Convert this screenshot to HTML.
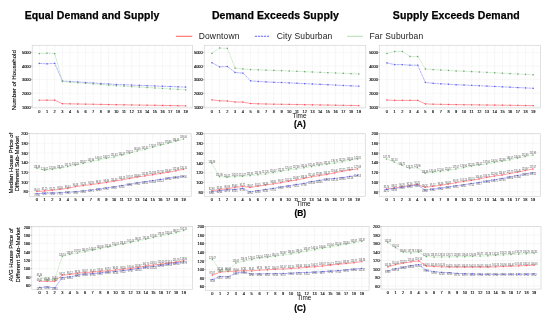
<!DOCTYPE html>
<html><head><meta charset="utf-8"><style>
html,body{margin:0;padding:0;background:#fff;}
svg{display:block;will-change:transform;}
text{font-family:"Liberation Sans",sans-serif;}
.tk{font-size:3.9px;fill:#111;stroke:#111;stroke-width:0.15px;}
.lb{font-size:2.8px;fill:#4a4a4a;}
.ttl{font-size:10.5px;font-weight:bold;fill:#000;stroke:#000;stroke-width:0.25px;letter-spacing:0.1px;}
.leg{font-size:8.5px;fill:#222;letter-spacing:0.15px;}
.yl{font-size:6px;fill:#000;stroke:#000;stroke-width:0.12px;}
.tm{font-size:6.4px;fill:#111;}
.pl{font-size:8.4px;font-weight:bold;fill:#000;stroke:#000;stroke-width:0.2px;}
</style></head><body>
<svg width="550" height="317" viewBox="0 0 550 317">
<rect width="550" height="317" fill="#fff"/>
<text x="24.7" y="19.2" class="ttl">Equal Demand and Supply</text>
<text x="211.9" y="19.2" class="ttl">Demand Exceeds Supply</text>
<text x="392.8" y="19.2" class="ttl">Supply Exceeds Demand</text>
<line x1="175.9" y1="36.3" x2="192.3" y2="36.3" stroke="#ff6868" stroke-width="1.1"/>
<text x="198.7" y="39.2" class="leg">Downtown</text>
<line x1="254.8" y1="36.3" x2="269.2" y2="36.3" stroke="#6464ff" stroke-width="1.1" stroke-dasharray="2.2 0.8"/>
<text x="276.7" y="39.2" class="leg">City Suburban</text>
<line x1="347" y1="36.3" x2="362.8" y2="36.3" stroke="#b8e2b8" stroke-width="1.1"/>
<text x="369.5" y="39.2" class="leg">Far Suburban</text>
<text transform="translate(16.1,80.2) rotate(-90)" class="yl" text-anchor="middle" style="font-size:6.2px">Number of Household</text>
<text transform="translate(13.3,163.2) rotate(-90)" class="yl" text-anchor="middle">Median House Price of</text>
<text transform="translate(18.6,163.7) rotate(-90)" class="yl" text-anchor="middle">Different Sub-Market</text>
<text transform="translate(13.2,281.6) rotate(-90)" class="yl">AVG House Price of</text>
<text transform="translate(19.5,282.5) rotate(-90)" class="yl">Different Sub-Market</text>
<text x="299.5" y="117.7" class="tm" text-anchor="middle">Time</text>
<text x="299.9" y="126.6" class="pl" text-anchor="middle">(A)</text>
<text x="303.7" y="206.4" class="tm" text-anchor="middle">Time</text>
<text x="300.3" y="215.8" class="pl" text-anchor="middle">(B)</text>
<text x="304.3" y="300" class="tm" text-anchor="middle">Time</text>
<text x="300" y="310.9" class="pl" text-anchor="middle">(C)</text>
<path d="M39.3 45.3V107.9M47 45.3V107.9M54.7 45.3V107.9M62.4 45.3V107.9M70.1 45.3V107.9M77.8 45.3V107.9M85.5 45.3V107.9M93.2 45.3V107.9M100.9 45.3V107.9M108.6 45.3V107.9M116.3 45.3V107.9M124 45.3V107.9M131.7 45.3V107.9M139.4 45.3V107.9M147.1 45.3V107.9M154.8 45.3V107.9M162.5 45.3V107.9M170.2 45.3V107.9M177.9 45.3V107.9M185.6 45.3V107.9M32.2 106.9H192.6M32.2 93.28H192.6M32.2 79.65H192.6M32.2 66.03H192.6M32.2 52.4H192.6" stroke="#eeeeee" stroke-width="0.5" fill="none"/>
<rect x="32.2" y="45.3" width="160.4" height="62.6" fill="none" stroke="#d4d4d4" stroke-width="0.7"/>
<text x="39.3" y="112.6" class="tk" text-anchor="middle">0</text>
<text x="47" y="112.6" class="tk" text-anchor="middle">1</text>
<text x="54.7" y="112.6" class="tk" text-anchor="middle">2</text>
<text x="62.4" y="112.6" class="tk" text-anchor="middle">3</text>
<text x="70.1" y="112.6" class="tk" text-anchor="middle">4</text>
<text x="77.8" y="112.6" class="tk" text-anchor="middle">5</text>
<text x="85.5" y="112.6" class="tk" text-anchor="middle">6</text>
<text x="93.2" y="112.6" class="tk" text-anchor="middle">7</text>
<text x="100.9" y="112.6" class="tk" text-anchor="middle">8</text>
<text x="108.6" y="112.6" class="tk" text-anchor="middle">9</text>
<text x="116.3" y="112.6" class="tk" text-anchor="middle">10</text>
<text x="124" y="112.6" class="tk" text-anchor="middle">11</text>
<text x="131.7" y="112.6" class="tk" text-anchor="middle">12</text>
<text x="139.4" y="112.6" class="tk" text-anchor="middle">13</text>
<text x="147.1" y="112.6" class="tk" text-anchor="middle">14</text>
<text x="154.8" y="112.6" class="tk" text-anchor="middle">15</text>
<text x="162.5" y="112.6" class="tk" text-anchor="middle">16</text>
<text x="170.2" y="112.6" class="tk" text-anchor="middle">17</text>
<text x="177.9" y="112.6" class="tk" text-anchor="middle">18</text>
<text x="185.6" y="112.6" class="tk" text-anchor="middle">19</text>
<text x="30.7" y="108.65" class="tk" text-anchor="end">1000</text>
<path d="M30.9 106.9H32.2" stroke="#666" stroke-width="0.4"/>
<text x="30.7" y="95.03" class="tk" text-anchor="end">2000</text>
<path d="M30.9 93.28H32.2" stroke="#666" stroke-width="0.4"/>
<text x="30.7" y="81.4" class="tk" text-anchor="end">3000</text>
<path d="M30.9 79.65H32.2" stroke="#666" stroke-width="0.4"/>
<text x="30.7" y="67.78" class="tk" text-anchor="end">4000</text>
<path d="M30.9 66.03H32.2" stroke="#666" stroke-width="0.4"/>
<text x="30.7" y="54.15" class="tk" text-anchor="end">5000</text>
<path d="M30.9 52.4H32.2" stroke="#666" stroke-width="0.4"/>
<polyline points="39.3,100.2 47,100.2 54.7,100.2 62.4,103.7 70.1,103.84 77.8,103.99 85.5,104.13 93.2,104.27 100.9,104.41 108.6,104.56 116.3,104.7 124,104.82 131.7,104.94 139.4,105.07 147.1,105.19 154.8,105.31 162.5,105.43 170.2,105.56 177.9,105.68 185.6,105.8" fill="none" stroke="#ff9c9c" stroke-width="0.95"/>
<rect x="38.65" y="99.55" width="1.3" height="1.3" fill="#ff4d6a"/>
<rect x="46.35" y="99.55" width="1.3" height="1.3" fill="#ff4d6a"/>
<rect x="54.05" y="99.55" width="1.3" height="1.3" fill="#ff4d6a"/>
<rect x="61.75" y="103.05" width="1.3" height="1.3" fill="#ff4d6a"/>
<rect x="69.45" y="103.19" width="1.3" height="1.3" fill="#ff4d6a"/>
<rect x="77.15" y="103.34" width="1.3" height="1.3" fill="#ff4d6a"/>
<rect x="84.85" y="103.48" width="1.3" height="1.3" fill="#ff4d6a"/>
<rect x="92.55" y="103.62" width="1.3" height="1.3" fill="#ff4d6a"/>
<rect x="100.25" y="103.76" width="1.3" height="1.3" fill="#ff4d6a"/>
<rect x="107.95" y="103.91" width="1.3" height="1.3" fill="#ff4d6a"/>
<rect x="115.65" y="104.05" width="1.3" height="1.3" fill="#ff4d6a"/>
<rect x="123.35" y="104.17" width="1.3" height="1.3" fill="#ff4d6a"/>
<rect x="131.05" y="104.29" width="1.3" height="1.3" fill="#ff4d6a"/>
<rect x="138.75" y="104.42" width="1.3" height="1.3" fill="#ff4d6a"/>
<rect x="146.45" y="104.54" width="1.3" height="1.3" fill="#ff4d6a"/>
<rect x="154.15" y="104.66" width="1.3" height="1.3" fill="#ff4d6a"/>
<rect x="161.85" y="104.78" width="1.3" height="1.3" fill="#ff4d6a"/>
<rect x="169.55" y="104.91" width="1.3" height="1.3" fill="#ff4d6a"/>
<rect x="177.25" y="105.03" width="1.3" height="1.3" fill="#ff4d6a"/>
<rect x="184.95" y="105.15" width="1.3" height="1.3" fill="#ff4d6a"/>
<polyline points="39.3,63.4 47,63.8 54.7,63.4 62.4,81 70.1,81.5 77.8,82 85.5,82.5 93.2,83 100.9,83.5 108.6,84 116.3,84.5 124,84.79 131.7,85.08 139.4,85.37 147.1,85.66 154.8,85.94 162.5,86.23 170.2,86.52 177.9,86.81 185.6,87.1" fill="none" stroke="#a4a4ff" stroke-width="0.85" stroke-dasharray="2.8 0.6"/>
<rect x="38.65" y="62.75" width="1.3" height="1.3" fill="#5e5ef2"/>
<rect x="46.35" y="63.15" width="1.3" height="1.3" fill="#5e5ef2"/>
<rect x="54.05" y="62.75" width="1.3" height="1.3" fill="#5e5ef2"/>
<rect x="61.75" y="80.35" width="1.3" height="1.3" fill="#5e5ef2"/>
<rect x="69.45" y="80.85" width="1.3" height="1.3" fill="#5e5ef2"/>
<rect x="77.15" y="81.35" width="1.3" height="1.3" fill="#5e5ef2"/>
<rect x="84.85" y="81.85" width="1.3" height="1.3" fill="#5e5ef2"/>
<rect x="92.55" y="82.35" width="1.3" height="1.3" fill="#5e5ef2"/>
<rect x="100.25" y="82.85" width="1.3" height="1.3" fill="#5e5ef2"/>
<rect x="107.95" y="83.35" width="1.3" height="1.3" fill="#5e5ef2"/>
<rect x="115.65" y="83.85" width="1.3" height="1.3" fill="#5e5ef2"/>
<rect x="123.35" y="84.14" width="1.3" height="1.3" fill="#5e5ef2"/>
<rect x="131.05" y="84.43" width="1.3" height="1.3" fill="#5e5ef2"/>
<rect x="138.75" y="84.72" width="1.3" height="1.3" fill="#5e5ef2"/>
<rect x="146.45" y="85.01" width="1.3" height="1.3" fill="#5e5ef2"/>
<rect x="154.15" y="85.29" width="1.3" height="1.3" fill="#5e5ef2"/>
<rect x="161.85" y="85.58" width="1.3" height="1.3" fill="#5e5ef2"/>
<rect x="169.55" y="85.87" width="1.3" height="1.3" fill="#5e5ef2"/>
<rect x="177.25" y="86.16" width="1.3" height="1.3" fill="#5e5ef2"/>
<rect x="184.95" y="86.45" width="1.3" height="1.3" fill="#5e5ef2"/>
<polyline points="39.3,53.6 47,53.2 54.7,53.6 62.4,81.5 70.1,82.1 77.8,82.7 85.5,83.3 93.2,83.9 100.9,84.5 108.6,85.1 116.3,85.7 124,86.16 131.7,86.61 139.4,87.07 147.1,87.52 154.8,87.98 162.5,88.43 170.2,88.89 177.9,89.34 185.6,89.8" fill="none" stroke="#b2dcb2" stroke-width="0.8" stroke-dasharray="0.9 0.5"/>
<rect x="38.65" y="52.95" width="1.3" height="1.3" fill="#67a867"/>
<rect x="46.35" y="52.55" width="1.3" height="1.3" fill="#67a867"/>
<rect x="54.05" y="52.95" width="1.3" height="1.3" fill="#67a867"/>
<rect x="61.75" y="80.85" width="1.3" height="1.3" fill="#67a867"/>
<rect x="69.45" y="81.45" width="1.3" height="1.3" fill="#67a867"/>
<rect x="77.15" y="82.05" width="1.3" height="1.3" fill="#67a867"/>
<rect x="84.85" y="82.65" width="1.3" height="1.3" fill="#67a867"/>
<rect x="92.55" y="83.25" width="1.3" height="1.3" fill="#67a867"/>
<rect x="100.25" y="83.85" width="1.3" height="1.3" fill="#67a867"/>
<rect x="107.95" y="84.45" width="1.3" height="1.3" fill="#67a867"/>
<rect x="115.65" y="85.05" width="1.3" height="1.3" fill="#67a867"/>
<rect x="123.35" y="85.51" width="1.3" height="1.3" fill="#67a867"/>
<rect x="131.05" y="85.96" width="1.3" height="1.3" fill="#67a867"/>
<rect x="138.75" y="86.42" width="1.3" height="1.3" fill="#67a867"/>
<rect x="146.45" y="86.87" width="1.3" height="1.3" fill="#67a867"/>
<rect x="154.15" y="87.33" width="1.3" height="1.3" fill="#67a867"/>
<rect x="161.85" y="87.78" width="1.3" height="1.3" fill="#67a867"/>
<rect x="169.55" y="88.24" width="1.3" height="1.3" fill="#67a867"/>
<rect x="177.25" y="88.69" width="1.3" height="1.3" fill="#67a867"/>
<rect x="184.95" y="89.15" width="1.3" height="1.3" fill="#67a867"/>
<path d="M211.9 45.3V107.9M219.63 45.3V107.9M227.36 45.3V107.9M235.09 45.3V107.9M242.82 45.3V107.9M250.55 45.3V107.9M258.28 45.3V107.9M266.01 45.3V107.9M273.74 45.3V107.9M281.47 45.3V107.9M289.2 45.3V107.9M296.93 45.3V107.9M304.66 45.3V107.9M312.39 45.3V107.9M320.12 45.3V107.9M327.85 45.3V107.9M335.58 45.3V107.9M343.31 45.3V107.9M351.04 45.3V107.9M358.77 45.3V107.9M204.2 106.9H365.8M204.2 93.28H365.8M204.2 79.65H365.8M204.2 66.03H365.8M204.2 52.4H365.8" stroke="#eeeeee" stroke-width="0.5" fill="none"/>
<rect x="204.2" y="45.3" width="161.6" height="62.6" fill="none" stroke="#d4d4d4" stroke-width="0.7"/>
<text x="211.9" y="112.6" class="tk" text-anchor="middle">0</text>
<text x="219.63" y="112.6" class="tk" text-anchor="middle">1</text>
<text x="227.36" y="112.6" class="tk" text-anchor="middle">2</text>
<text x="235.09" y="112.6" class="tk" text-anchor="middle">3</text>
<text x="242.82" y="112.6" class="tk" text-anchor="middle">4</text>
<text x="250.55" y="112.6" class="tk" text-anchor="middle">5</text>
<text x="258.28" y="112.6" class="tk" text-anchor="middle">6</text>
<text x="266.01" y="112.6" class="tk" text-anchor="middle">7</text>
<text x="273.74" y="112.6" class="tk" text-anchor="middle">8</text>
<text x="281.47" y="112.6" class="tk" text-anchor="middle">9</text>
<text x="289.2" y="112.6" class="tk" text-anchor="middle">10</text>
<text x="296.93" y="112.6" class="tk" text-anchor="middle">11</text>
<text x="304.66" y="112.6" class="tk" text-anchor="middle">12</text>
<text x="312.39" y="112.6" class="tk" text-anchor="middle">13</text>
<text x="320.12" y="112.6" class="tk" text-anchor="middle">14</text>
<text x="327.85" y="112.6" class="tk" text-anchor="middle">15</text>
<text x="335.58" y="112.6" class="tk" text-anchor="middle">16</text>
<text x="343.31" y="112.6" class="tk" text-anchor="middle">17</text>
<text x="351.04" y="112.6" class="tk" text-anchor="middle">18</text>
<text x="358.77" y="112.6" class="tk" text-anchor="middle">19</text>
<text x="202.7" y="108.65" class="tk" text-anchor="end">1000</text>
<path d="M202.9 106.9H204.2" stroke="#666" stroke-width="0.4"/>
<text x="202.7" y="95.03" class="tk" text-anchor="end">2000</text>
<path d="M202.9 93.28H204.2" stroke="#666" stroke-width="0.4"/>
<text x="202.7" y="81.4" class="tk" text-anchor="end">3000</text>
<path d="M202.9 79.65H204.2" stroke="#666" stroke-width="0.4"/>
<text x="202.7" y="67.78" class="tk" text-anchor="end">4000</text>
<path d="M202.9 66.03H204.2" stroke="#666" stroke-width="0.4"/>
<text x="202.7" y="54.15" class="tk" text-anchor="end">5000</text>
<path d="M202.9 52.4H204.2" stroke="#666" stroke-width="0.4"/>
<polyline points="211.9,99.8 219.63,100.8 227.36,101 235.09,102 242.82,102.1 250.55,103.5 258.28,103.8 266.01,104 273.74,104.2 281.47,104.3 289.2,104.4 296.93,104.53 304.66,104.67 312.39,104.8 320.12,104.93 327.85,105.07 335.58,105.2 343.31,105.33 351.04,105.47 358.77,105.6" fill="none" stroke="#ff9c9c" stroke-width="0.95"/>
<rect x="211.25" y="99.15" width="1.3" height="1.3" fill="#ff4d6a"/>
<rect x="218.98" y="100.15" width="1.3" height="1.3" fill="#ff4d6a"/>
<rect x="226.71" y="100.35" width="1.3" height="1.3" fill="#ff4d6a"/>
<rect x="234.44" y="101.35" width="1.3" height="1.3" fill="#ff4d6a"/>
<rect x="242.17" y="101.45" width="1.3" height="1.3" fill="#ff4d6a"/>
<rect x="249.9" y="102.85" width="1.3" height="1.3" fill="#ff4d6a"/>
<rect x="257.63" y="103.15" width="1.3" height="1.3" fill="#ff4d6a"/>
<rect x="265.36" y="103.35" width="1.3" height="1.3" fill="#ff4d6a"/>
<rect x="273.09" y="103.55" width="1.3" height="1.3" fill="#ff4d6a"/>
<rect x="280.82" y="103.65" width="1.3" height="1.3" fill="#ff4d6a"/>
<rect x="288.55" y="103.75" width="1.3" height="1.3" fill="#ff4d6a"/>
<rect x="296.28" y="103.88" width="1.3" height="1.3" fill="#ff4d6a"/>
<rect x="304.01" y="104.02" width="1.3" height="1.3" fill="#ff4d6a"/>
<rect x="311.74" y="104.15" width="1.3" height="1.3" fill="#ff4d6a"/>
<rect x="319.47" y="104.28" width="1.3" height="1.3" fill="#ff4d6a"/>
<rect x="327.2" y="104.42" width="1.3" height="1.3" fill="#ff4d6a"/>
<rect x="334.93" y="104.55" width="1.3" height="1.3" fill="#ff4d6a"/>
<rect x="342.66" y="104.68" width="1.3" height="1.3" fill="#ff4d6a"/>
<rect x="350.39" y="104.82" width="1.3" height="1.3" fill="#ff4d6a"/>
<rect x="358.12" y="104.95" width="1.3" height="1.3" fill="#ff4d6a"/>
<polyline points="211.9,62.7 219.63,66.9 227.36,66.5 235.09,72.5 242.82,73.1 250.55,80.8 258.28,81.5 266.01,81.9 273.74,82.3 281.47,82.5 289.2,82.9 296.93,83.27 304.66,83.63 312.39,84 320.12,84.37 327.85,84.73 335.58,85.1 343.31,85.47 351.04,85.83 358.77,86.2" fill="none" stroke="#a4a4ff" stroke-width="0.85" stroke-dasharray="2.8 0.6"/>
<rect x="211.25" y="62.05" width="1.3" height="1.3" fill="#5e5ef2"/>
<rect x="218.98" y="66.25" width="1.3" height="1.3" fill="#5e5ef2"/>
<rect x="226.71" y="65.85" width="1.3" height="1.3" fill="#5e5ef2"/>
<rect x="234.44" y="71.85" width="1.3" height="1.3" fill="#5e5ef2"/>
<rect x="242.17" y="72.45" width="1.3" height="1.3" fill="#5e5ef2"/>
<rect x="249.9" y="80.15" width="1.3" height="1.3" fill="#5e5ef2"/>
<rect x="257.63" y="80.85" width="1.3" height="1.3" fill="#5e5ef2"/>
<rect x="265.36" y="81.25" width="1.3" height="1.3" fill="#5e5ef2"/>
<rect x="273.09" y="81.65" width="1.3" height="1.3" fill="#5e5ef2"/>
<rect x="280.82" y="81.85" width="1.3" height="1.3" fill="#5e5ef2"/>
<rect x="288.55" y="82.25" width="1.3" height="1.3" fill="#5e5ef2"/>
<rect x="296.28" y="82.62" width="1.3" height="1.3" fill="#5e5ef2"/>
<rect x="304.01" y="82.98" width="1.3" height="1.3" fill="#5e5ef2"/>
<rect x="311.74" y="83.35" width="1.3" height="1.3" fill="#5e5ef2"/>
<rect x="319.47" y="83.72" width="1.3" height="1.3" fill="#5e5ef2"/>
<rect x="327.2" y="84.08" width="1.3" height="1.3" fill="#5e5ef2"/>
<rect x="334.93" y="84.45" width="1.3" height="1.3" fill="#5e5ef2"/>
<rect x="342.66" y="84.82" width="1.3" height="1.3" fill="#5e5ef2"/>
<rect x="350.39" y="85.18" width="1.3" height="1.3" fill="#5e5ef2"/>
<rect x="358.12" y="85.55" width="1.3" height="1.3" fill="#5e5ef2"/>
<polyline points="211.9,53.4 219.63,48 227.36,48.4 235.09,68.1 242.82,69 250.55,69.6 258.28,69.8 266.01,70.2 273.74,70.4 281.47,70.6 289.2,71 296.93,71.33 304.66,71.67 312.39,72 320.12,72.33 327.85,72.67 335.58,73 343.31,73.33 351.04,73.67 358.77,74" fill="none" stroke="#b2dcb2" stroke-width="0.8" stroke-dasharray="0.9 0.5"/>
<rect x="211.25" y="52.75" width="1.3" height="1.3" fill="#67a867"/>
<rect x="218.98" y="47.35" width="1.3" height="1.3" fill="#67a867"/>
<rect x="226.71" y="47.75" width="1.3" height="1.3" fill="#67a867"/>
<rect x="234.44" y="67.45" width="1.3" height="1.3" fill="#67a867"/>
<rect x="242.17" y="68.35" width="1.3" height="1.3" fill="#67a867"/>
<rect x="249.9" y="68.95" width="1.3" height="1.3" fill="#67a867"/>
<rect x="257.63" y="69.15" width="1.3" height="1.3" fill="#67a867"/>
<rect x="265.36" y="69.55" width="1.3" height="1.3" fill="#67a867"/>
<rect x="273.09" y="69.75" width="1.3" height="1.3" fill="#67a867"/>
<rect x="280.82" y="69.95" width="1.3" height="1.3" fill="#67a867"/>
<rect x="288.55" y="70.35" width="1.3" height="1.3" fill="#67a867"/>
<rect x="296.28" y="70.68" width="1.3" height="1.3" fill="#67a867"/>
<rect x="304.01" y="71.02" width="1.3" height="1.3" fill="#67a867"/>
<rect x="311.74" y="71.35" width="1.3" height="1.3" fill="#67a867"/>
<rect x="319.47" y="71.68" width="1.3" height="1.3" fill="#67a867"/>
<rect x="327.2" y="72.02" width="1.3" height="1.3" fill="#67a867"/>
<rect x="334.93" y="72.35" width="1.3" height="1.3" fill="#67a867"/>
<rect x="342.66" y="72.68" width="1.3" height="1.3" fill="#67a867"/>
<rect x="350.39" y="73.02" width="1.3" height="1.3" fill="#67a867"/>
<rect x="358.12" y="73.35" width="1.3" height="1.3" fill="#67a867"/>
<path d="M386.9 45.3V107.9M394.6 45.3V107.9M402.3 45.3V107.9M410 45.3V107.9M417.7 45.3V107.9M425.4 45.3V107.9M433.1 45.3V107.9M440.8 45.3V107.9M448.5 45.3V107.9M456.2 45.3V107.9M463.9 45.3V107.9M471.6 45.3V107.9M479.3 45.3V107.9M487 45.3V107.9M494.7 45.3V107.9M502.4 45.3V107.9M510.1 45.3V107.9M517.8 45.3V107.9M525.5 45.3V107.9M533.2 45.3V107.9M379.3 106.9H540.5M379.3 93.28H540.5M379.3 79.65H540.5M379.3 66.03H540.5M379.3 52.4H540.5" stroke="#eeeeee" stroke-width="0.5" fill="none"/>
<rect x="379.3" y="45.3" width="161.2" height="62.6" fill="none" stroke="#d4d4d4" stroke-width="0.7"/>
<text x="386.9" y="112.6" class="tk" text-anchor="middle">0</text>
<text x="394.6" y="112.6" class="tk" text-anchor="middle">1</text>
<text x="402.3" y="112.6" class="tk" text-anchor="middle">2</text>
<text x="410" y="112.6" class="tk" text-anchor="middle">3</text>
<text x="417.7" y="112.6" class="tk" text-anchor="middle">4</text>
<text x="425.4" y="112.6" class="tk" text-anchor="middle">5</text>
<text x="433.1" y="112.6" class="tk" text-anchor="middle">6</text>
<text x="440.8" y="112.6" class="tk" text-anchor="middle">7</text>
<text x="448.5" y="112.6" class="tk" text-anchor="middle">8</text>
<text x="456.2" y="112.6" class="tk" text-anchor="middle">9</text>
<text x="463.9" y="112.6" class="tk" text-anchor="middle">10</text>
<text x="471.6" y="112.6" class="tk" text-anchor="middle">11</text>
<text x="479.3" y="112.6" class="tk" text-anchor="middle">12</text>
<text x="487" y="112.6" class="tk" text-anchor="middle">13</text>
<text x="494.7" y="112.6" class="tk" text-anchor="middle">14</text>
<text x="502.4" y="112.6" class="tk" text-anchor="middle">15</text>
<text x="510.1" y="112.6" class="tk" text-anchor="middle">16</text>
<text x="517.8" y="112.6" class="tk" text-anchor="middle">17</text>
<text x="525.5" y="112.6" class="tk" text-anchor="middle">18</text>
<text x="533.2" y="112.6" class="tk" text-anchor="middle">19</text>
<text x="377.8" y="108.65" class="tk" text-anchor="end">1000</text>
<path d="M378 106.9H379.3" stroke="#666" stroke-width="0.4"/>
<text x="377.8" y="95.03" class="tk" text-anchor="end">2000</text>
<path d="M378 93.28H379.3" stroke="#666" stroke-width="0.4"/>
<text x="377.8" y="81.4" class="tk" text-anchor="end">3000</text>
<path d="M378 79.65H379.3" stroke="#666" stroke-width="0.4"/>
<text x="377.8" y="67.78" class="tk" text-anchor="end">4000</text>
<path d="M378 66.03H379.3" stroke="#666" stroke-width="0.4"/>
<text x="377.8" y="54.15" class="tk" text-anchor="end">5000</text>
<path d="M378 52.4H379.3" stroke="#666" stroke-width="0.4"/>
<polyline points="386.9,100 394.6,100.4 402.3,100.4 410,100.4 417.7,100.4 425.4,103.9 433.1,104.2 440.8,104.33 448.5,104.47 456.2,104.6 463.9,104.7 471.6,104.8 479.3,104.9 487,105 494.7,105.1 502.4,105.2 510.1,105.3 517.8,105.4 525.5,105.5 533.2,105.6" fill="none" stroke="#ff9c9c" stroke-width="0.95"/>
<rect x="386.25" y="99.35" width="1.3" height="1.3" fill="#ff4d6a"/>
<rect x="393.95" y="99.75" width="1.3" height="1.3" fill="#ff4d6a"/>
<rect x="401.65" y="99.75" width="1.3" height="1.3" fill="#ff4d6a"/>
<rect x="409.35" y="99.75" width="1.3" height="1.3" fill="#ff4d6a"/>
<rect x="417.05" y="99.75" width="1.3" height="1.3" fill="#ff4d6a"/>
<rect x="424.75" y="103.25" width="1.3" height="1.3" fill="#ff4d6a"/>
<rect x="432.45" y="103.55" width="1.3" height="1.3" fill="#ff4d6a"/>
<rect x="440.15" y="103.68" width="1.3" height="1.3" fill="#ff4d6a"/>
<rect x="447.85" y="103.82" width="1.3" height="1.3" fill="#ff4d6a"/>
<rect x="455.55" y="103.95" width="1.3" height="1.3" fill="#ff4d6a"/>
<rect x="463.25" y="104.05" width="1.3" height="1.3" fill="#ff4d6a"/>
<rect x="470.95" y="104.15" width="1.3" height="1.3" fill="#ff4d6a"/>
<rect x="478.65" y="104.25" width="1.3" height="1.3" fill="#ff4d6a"/>
<rect x="486.35" y="104.35" width="1.3" height="1.3" fill="#ff4d6a"/>
<rect x="494.05" y="104.45" width="1.3" height="1.3" fill="#ff4d6a"/>
<rect x="501.75" y="104.55" width="1.3" height="1.3" fill="#ff4d6a"/>
<rect x="509.45" y="104.65" width="1.3" height="1.3" fill="#ff4d6a"/>
<rect x="517.15" y="104.75" width="1.3" height="1.3" fill="#ff4d6a"/>
<rect x="524.85" y="104.85" width="1.3" height="1.3" fill="#ff4d6a"/>
<rect x="532.55" y="104.95" width="1.3" height="1.3" fill="#ff4d6a"/>
<polyline points="386.9,62.9 394.6,64.6 402.3,64.6 410,65.2 417.7,65.2 425.4,82.5 433.1,83.3 440.8,83.8 448.5,84.2 456.2,84.8 463.9,85 471.6,85.37 479.3,85.73 487,86.1 494.7,86.47 502.4,86.83 510.1,87.2 517.8,87.57 525.5,87.93 533.2,88.3" fill="none" stroke="#a4a4ff" stroke-width="0.85" stroke-dasharray="2.8 0.6"/>
<rect x="386.25" y="62.25" width="1.3" height="1.3" fill="#5e5ef2"/>
<rect x="393.95" y="63.95" width="1.3" height="1.3" fill="#5e5ef2"/>
<rect x="401.65" y="63.95" width="1.3" height="1.3" fill="#5e5ef2"/>
<rect x="409.35" y="64.55" width="1.3" height="1.3" fill="#5e5ef2"/>
<rect x="417.05" y="64.55" width="1.3" height="1.3" fill="#5e5ef2"/>
<rect x="424.75" y="81.85" width="1.3" height="1.3" fill="#5e5ef2"/>
<rect x="432.45" y="82.65" width="1.3" height="1.3" fill="#5e5ef2"/>
<rect x="440.15" y="83.15" width="1.3" height="1.3" fill="#5e5ef2"/>
<rect x="447.85" y="83.55" width="1.3" height="1.3" fill="#5e5ef2"/>
<rect x="455.55" y="84.15" width="1.3" height="1.3" fill="#5e5ef2"/>
<rect x="463.25" y="84.35" width="1.3" height="1.3" fill="#5e5ef2"/>
<rect x="470.95" y="84.72" width="1.3" height="1.3" fill="#5e5ef2"/>
<rect x="478.65" y="85.08" width="1.3" height="1.3" fill="#5e5ef2"/>
<rect x="486.35" y="85.45" width="1.3" height="1.3" fill="#5e5ef2"/>
<rect x="494.05" y="85.82" width="1.3" height="1.3" fill="#5e5ef2"/>
<rect x="501.75" y="86.18" width="1.3" height="1.3" fill="#5e5ef2"/>
<rect x="509.45" y="86.55" width="1.3" height="1.3" fill="#5e5ef2"/>
<rect x="517.15" y="86.92" width="1.3" height="1.3" fill="#5e5ef2"/>
<rect x="524.85" y="87.28" width="1.3" height="1.3" fill="#5e5ef2"/>
<rect x="532.55" y="87.65" width="1.3" height="1.3" fill="#5e5ef2"/>
<polyline points="386.9,53.4 394.6,51.5 402.3,51.5 410,56.5 417.7,56.5 425.4,69 433.1,69.6 440.8,70 448.5,70.4 456.2,71 463.9,71.2 471.6,71.6 479.3,72 487,72.4 494.7,72.8 502.4,73.2 510.1,73.6 517.8,74 525.5,74.4 533.2,74.8" fill="none" stroke="#b2dcb2" stroke-width="0.8" stroke-dasharray="0.9 0.5"/>
<rect x="386.25" y="52.75" width="1.3" height="1.3" fill="#67a867"/>
<rect x="393.95" y="50.85" width="1.3" height="1.3" fill="#67a867"/>
<rect x="401.65" y="50.85" width="1.3" height="1.3" fill="#67a867"/>
<rect x="409.35" y="55.85" width="1.3" height="1.3" fill="#67a867"/>
<rect x="417.05" y="55.85" width="1.3" height="1.3" fill="#67a867"/>
<rect x="424.75" y="68.35" width="1.3" height="1.3" fill="#67a867"/>
<rect x="432.45" y="68.95" width="1.3" height="1.3" fill="#67a867"/>
<rect x="440.15" y="69.35" width="1.3" height="1.3" fill="#67a867"/>
<rect x="447.85" y="69.75" width="1.3" height="1.3" fill="#67a867"/>
<rect x="455.55" y="70.35" width="1.3" height="1.3" fill="#67a867"/>
<rect x="463.25" y="70.55" width="1.3" height="1.3" fill="#67a867"/>
<rect x="470.95" y="70.95" width="1.3" height="1.3" fill="#67a867"/>
<rect x="478.65" y="71.35" width="1.3" height="1.3" fill="#67a867"/>
<rect x="486.35" y="71.75" width="1.3" height="1.3" fill="#67a867"/>
<rect x="494.05" y="72.15" width="1.3" height="1.3" fill="#67a867"/>
<rect x="501.75" y="72.55" width="1.3" height="1.3" fill="#67a867"/>
<rect x="509.45" y="72.95" width="1.3" height="1.3" fill="#67a867"/>
<rect x="517.15" y="73.35" width="1.3" height="1.3" fill="#67a867"/>
<rect x="524.85" y="73.75" width="1.3" height="1.3" fill="#67a867"/>
<rect x="532.55" y="74.15" width="1.3" height="1.3" fill="#67a867"/>
<path d="M36.9 133.7V196.3M44.62 133.7V196.3M52.33 133.7V196.3M60.05 133.7V196.3M67.76 133.7V196.3M75.48 133.7V196.3M83.2 133.7V196.3M90.91 133.7V196.3M98.63 133.7V196.3M106.34 133.7V196.3M114.06 133.7V196.3M121.78 133.7V196.3M129.49 133.7V196.3M137.21 133.7V196.3M144.92 133.7V196.3M152.64 133.7V196.3M160.36 133.7V196.3M168.07 133.7V196.3M175.79 133.7V196.3M183.5 133.7V196.3M29.3 191.5H191.2M29.3 181.87H191.2M29.3 172.24H191.2M29.3 162.6H191.2M29.3 152.97H191.2M29.3 143.33H191.2M29.3 133.7H191.2" stroke="#eeeeee" stroke-width="0.5" fill="none"/>
<rect x="29.3" y="133.7" width="161.9" height="62.6" fill="none" stroke="#d4d4d4" stroke-width="0.7"/>
<text x="36.9" y="200.8" class="tk" text-anchor="middle">0</text>
<text x="44.62" y="200.8" class="tk" text-anchor="middle">1</text>
<text x="52.33" y="200.8" class="tk" text-anchor="middle">2</text>
<text x="60.05" y="200.8" class="tk" text-anchor="middle">3</text>
<text x="67.76" y="200.8" class="tk" text-anchor="middle">4</text>
<text x="75.48" y="200.8" class="tk" text-anchor="middle">5</text>
<text x="83.2" y="200.8" class="tk" text-anchor="middle">6</text>
<text x="90.91" y="200.8" class="tk" text-anchor="middle">7</text>
<text x="98.63" y="200.8" class="tk" text-anchor="middle">8</text>
<text x="106.34" y="200.8" class="tk" text-anchor="middle">9</text>
<text x="114.06" y="200.8" class="tk" text-anchor="middle">10</text>
<text x="121.78" y="200.8" class="tk" text-anchor="middle">11</text>
<text x="129.49" y="200.8" class="tk" text-anchor="middle">12</text>
<text x="137.21" y="200.8" class="tk" text-anchor="middle">13</text>
<text x="144.92" y="200.8" class="tk" text-anchor="middle">14</text>
<text x="152.64" y="200.8" class="tk" text-anchor="middle">15</text>
<text x="160.36" y="200.8" class="tk" text-anchor="middle">16</text>
<text x="168.07" y="200.8" class="tk" text-anchor="middle">17</text>
<text x="175.79" y="200.8" class="tk" text-anchor="middle">18</text>
<text x="183.5" y="200.8" class="tk" text-anchor="middle">19</text>
<text x="27.8" y="193.25" class="tk" text-anchor="end">80</text>
<path d="M28 191.5H29.3" stroke="#666" stroke-width="0.4"/>
<text x="27.8" y="183.62" class="tk" text-anchor="end">100</text>
<path d="M28 181.87H29.3" stroke="#666" stroke-width="0.4"/>
<text x="27.8" y="173.99" class="tk" text-anchor="end">120</text>
<path d="M28 172.24H29.3" stroke="#666" stroke-width="0.4"/>
<text x="27.8" y="164.35" class="tk" text-anchor="end">140</text>
<path d="M28 162.6H29.3" stroke="#666" stroke-width="0.4"/>
<text x="27.8" y="154.72" class="tk" text-anchor="end">160</text>
<path d="M28 152.97H29.3" stroke="#666" stroke-width="0.4"/>
<text x="27.8" y="145.08" class="tk" text-anchor="end">180</text>
<path d="M28 143.33H29.3" stroke="#666" stroke-width="0.4"/>
<text x="27.8" y="135.45" class="tk" text-anchor="end">200</text>
<path d="M28 133.7H29.3" stroke="#666" stroke-width="0.4"/>
<polyline points="36.9,191.5 44.62,190.9 52.33,190.2 60.05,189.3 67.76,188.4 75.48,186.6 83.2,185.6 90.91,184.6 98.63,183.55 106.34,182.5 114.06,181.2 121.78,179.83 129.49,178.47 137.21,177.1 144.92,175.9 152.64,174.7 160.36,173.5 168.07,172.3 175.79,170.8 183.5,169.3" fill="none" stroke="#ff9c9c" stroke-width="0.95"/>
<rect x="36.25" y="190.85" width="1.3" height="1.3" fill="#ff4d6a"/>
<rect x="43.97" y="190.25" width="1.3" height="1.3" fill="#ff4d6a"/>
<rect x="51.68" y="189.55" width="1.3" height="1.3" fill="#ff4d6a"/>
<rect x="59.4" y="188.65" width="1.3" height="1.3" fill="#ff4d6a"/>
<rect x="67.11" y="187.75" width="1.3" height="1.3" fill="#ff4d6a"/>
<rect x="74.83" y="185.95" width="1.3" height="1.3" fill="#ff4d6a"/>
<rect x="82.55" y="184.95" width="1.3" height="1.3" fill="#ff4d6a"/>
<rect x="90.26" y="183.95" width="1.3" height="1.3" fill="#ff4d6a"/>
<rect x="97.98" y="182.9" width="1.3" height="1.3" fill="#ff4d6a"/>
<rect x="105.69" y="181.85" width="1.3" height="1.3" fill="#ff4d6a"/>
<rect x="113.41" y="180.55" width="1.3" height="1.3" fill="#ff4d6a"/>
<rect x="121.13" y="179.18" width="1.3" height="1.3" fill="#ff4d6a"/>
<rect x="128.84" y="177.82" width="1.3" height="1.3" fill="#ff4d6a"/>
<rect x="136.56" y="176.45" width="1.3" height="1.3" fill="#ff4d6a"/>
<rect x="144.27" y="175.25" width="1.3" height="1.3" fill="#ff4d6a"/>
<rect x="151.99" y="174.05" width="1.3" height="1.3" fill="#ff4d6a"/>
<rect x="159.71" y="172.85" width="1.3" height="1.3" fill="#ff4d6a"/>
<rect x="167.42" y="171.65" width="1.3" height="1.3" fill="#ff4d6a"/>
<rect x="175.14" y="170.15" width="1.3" height="1.3" fill="#ff4d6a"/>
<rect x="182.85" y="168.65" width="1.3" height="1.3" fill="#ff4d6a"/>
<text x="34.15" y="190.9" class="lb" textLength="5.5" lengthAdjust="spacingAndGlyphs">80.01</text>
<text x="41.86" y="190.3" class="lb" textLength="5.5" lengthAdjust="spacingAndGlyphs">81.25</text>
<text x="49.58" y="189.6" class="lb" textLength="5.5" lengthAdjust="spacingAndGlyphs">82.71</text>
<text x="57.3" y="188.7" class="lb" textLength="5.5" lengthAdjust="spacingAndGlyphs">84.58</text>
<text x="65.01" y="187.8" class="lb" textLength="5.5" lengthAdjust="spacingAndGlyphs">86.44</text>
<text x="72.73" y="186" class="lb" textLength="5.5" lengthAdjust="spacingAndGlyphs">90.18</text>
<text x="80.44" y="185" class="lb" textLength="5.5" lengthAdjust="spacingAndGlyphs">92.26</text>
<text x="88.16" y="184" class="lb" textLength="5.5" lengthAdjust="spacingAndGlyphs">94.33</text>
<text x="95.88" y="182.95" class="lb" textLength="5.5" lengthAdjust="spacingAndGlyphs">96.51</text>
<text x="103.59" y="181.9" class="lb" textLength="5.5" lengthAdjust="spacingAndGlyphs">98.69</text>
<text x="110.7" y="180.6" class="lb" textLength="6.73" lengthAdjust="spacingAndGlyphs">101.39</text>
<text x="118.41" y="179.23" class="lb" textLength="6.73" lengthAdjust="spacingAndGlyphs">104.23</text>
<text x="126.13" y="177.87" class="lb" textLength="6.73" lengthAdjust="spacingAndGlyphs">107.07</text>
<text x="133.84" y="176.5" class="lb" textLength="6.73" lengthAdjust="spacingAndGlyphs">109.90</text>
<text x="141.56" y="175.3" class="lb" textLength="6.73" lengthAdjust="spacingAndGlyphs">112.39</text>
<text x="149.28" y="174.1" class="lb" textLength="6.73" lengthAdjust="spacingAndGlyphs">114.88</text>
<text x="156.99" y="172.9" class="lb" textLength="6.73" lengthAdjust="spacingAndGlyphs">117.38</text>
<text x="164.71" y="171.7" class="lb" textLength="6.73" lengthAdjust="spacingAndGlyphs">119.87</text>
<text x="172.42" y="170.2" class="lb" textLength="6.73" lengthAdjust="spacingAndGlyphs">122.98</text>
<text x="180.14" y="168.7" class="lb" textLength="6.73" lengthAdjust="spacingAndGlyphs">126.10</text>
<polyline points="36.9,193.7 44.62,193.3 52.33,193 60.05,192.8 67.76,192.3 75.48,191.8 83.2,191 90.91,190.2 98.63,189.15 106.34,188.1 114.06,186.9 121.78,185.6 129.49,184.3 137.21,183 144.92,181.8 152.64,180.6 160.36,179.4 168.07,178.2 175.79,177.25 183.5,176.3" fill="none" stroke="#a4a4ff" stroke-width="0.85" stroke-dasharray="2.8 0.6"/>
<rect x="36.25" y="193.05" width="1.3" height="1.3" fill="#5e5ef2"/>
<rect x="43.97" y="192.65" width="1.3" height="1.3" fill="#5e5ef2"/>
<rect x="51.68" y="192.35" width="1.3" height="1.3" fill="#5e5ef2"/>
<rect x="59.4" y="192.15" width="1.3" height="1.3" fill="#5e5ef2"/>
<rect x="67.11" y="191.65" width="1.3" height="1.3" fill="#5e5ef2"/>
<rect x="74.83" y="191.15" width="1.3" height="1.3" fill="#5e5ef2"/>
<rect x="82.55" y="190.35" width="1.3" height="1.3" fill="#5e5ef2"/>
<rect x="90.26" y="189.55" width="1.3" height="1.3" fill="#5e5ef2"/>
<rect x="97.98" y="188.5" width="1.3" height="1.3" fill="#5e5ef2"/>
<rect x="105.69" y="187.45" width="1.3" height="1.3" fill="#5e5ef2"/>
<rect x="113.41" y="186.25" width="1.3" height="1.3" fill="#5e5ef2"/>
<rect x="121.13" y="184.95" width="1.3" height="1.3" fill="#5e5ef2"/>
<rect x="128.84" y="183.65" width="1.3" height="1.3" fill="#5e5ef2"/>
<rect x="136.56" y="182.35" width="1.3" height="1.3" fill="#5e5ef2"/>
<rect x="144.27" y="181.15" width="1.3" height="1.3" fill="#5e5ef2"/>
<rect x="151.99" y="179.95" width="1.3" height="1.3" fill="#5e5ef2"/>
<rect x="159.71" y="178.75" width="1.3" height="1.3" fill="#5e5ef2"/>
<rect x="167.42" y="177.55" width="1.3" height="1.3" fill="#5e5ef2"/>
<rect x="175.14" y="176.6" width="1.3" height="1.3" fill="#5e5ef2"/>
<rect x="182.85" y="175.65" width="1.3" height="1.3" fill="#5e5ef2"/>
<text x="34.15" y="195.8" class="lb" textLength="5.5" lengthAdjust="spacingAndGlyphs">75.44</text>
<text x="41.86" y="195.4" class="lb" textLength="5.5" lengthAdjust="spacingAndGlyphs">76.27</text>
<text x="49.58" y="195.1" class="lb" textLength="5.5" lengthAdjust="spacingAndGlyphs">76.89</text>
<text x="57.3" y="194.9" class="lb" textLength="5.5" lengthAdjust="spacingAndGlyphs">77.31</text>
<text x="65.01" y="194.4" class="lb" textLength="5.5" lengthAdjust="spacingAndGlyphs">78.35</text>
<text x="72.73" y="193.9" class="lb" textLength="5.5" lengthAdjust="spacingAndGlyphs">79.39</text>
<text x="80.44" y="193.1" class="lb" textLength="5.5" lengthAdjust="spacingAndGlyphs">81.05</text>
<text x="88.16" y="192.3" class="lb" textLength="5.5" lengthAdjust="spacingAndGlyphs">82.71</text>
<text x="95.88" y="191.25" class="lb" textLength="5.5" lengthAdjust="spacingAndGlyphs">84.89</text>
<text x="103.59" y="190.2" class="lb" textLength="5.5" lengthAdjust="spacingAndGlyphs">87.07</text>
<text x="111.31" y="189" class="lb" textLength="5.5" lengthAdjust="spacingAndGlyphs">89.56</text>
<text x="119.02" y="187.7" class="lb" textLength="5.5" lengthAdjust="spacingAndGlyphs">92.26</text>
<text x="126.74" y="186.4" class="lb" textLength="5.5" lengthAdjust="spacingAndGlyphs">94.96</text>
<text x="134.46" y="185.1" class="lb" textLength="5.5" lengthAdjust="spacingAndGlyphs">97.65</text>
<text x="141.56" y="183.9" class="lb" textLength="6.73" lengthAdjust="spacingAndGlyphs">100.15</text>
<text x="149.28" y="182.7" class="lb" textLength="6.73" lengthAdjust="spacingAndGlyphs">102.64</text>
<text x="156.99" y="181.5" class="lb" textLength="6.73" lengthAdjust="spacingAndGlyphs">105.13</text>
<text x="164.71" y="180.3" class="lb" textLength="6.73" lengthAdjust="spacingAndGlyphs">107.62</text>
<text x="172.42" y="179.35" class="lb" textLength="6.73" lengthAdjust="spacingAndGlyphs">109.59</text>
<text x="180.14" y="178.4" class="lb" textLength="6.73" lengthAdjust="spacingAndGlyphs">111.56</text>
<polyline points="36.9,168.2 44.62,170.3 52.33,169.4 60.05,168.1 67.76,166.6 75.48,165.2 83.2,163.43 90.91,161.67 98.63,159.9 106.34,158.4 114.06,157 121.78,155.1 129.49,153.2 137.21,151 144.92,149.4 152.64,147.2 160.36,145.2 168.07,143.4 175.79,141.2 183.5,139" fill="none" stroke="#b2dcb2" stroke-width="0.8" stroke-dasharray="0.9 0.5"/>
<rect x="36.25" y="167.55" width="1.3" height="1.3" fill="#67a867"/>
<rect x="43.97" y="169.65" width="1.3" height="1.3" fill="#67a867"/>
<rect x="51.68" y="168.75" width="1.3" height="1.3" fill="#67a867"/>
<rect x="59.4" y="167.45" width="1.3" height="1.3" fill="#67a867"/>
<rect x="67.11" y="165.95" width="1.3" height="1.3" fill="#67a867"/>
<rect x="74.83" y="164.55" width="1.3" height="1.3" fill="#67a867"/>
<rect x="82.55" y="162.78" width="1.3" height="1.3" fill="#67a867"/>
<rect x="90.26" y="161.02" width="1.3" height="1.3" fill="#67a867"/>
<rect x="97.98" y="159.25" width="1.3" height="1.3" fill="#67a867"/>
<rect x="105.69" y="157.75" width="1.3" height="1.3" fill="#67a867"/>
<rect x="113.41" y="156.35" width="1.3" height="1.3" fill="#67a867"/>
<rect x="121.13" y="154.45" width="1.3" height="1.3" fill="#67a867"/>
<rect x="128.84" y="152.55" width="1.3" height="1.3" fill="#67a867"/>
<rect x="136.56" y="150.35" width="1.3" height="1.3" fill="#67a867"/>
<rect x="144.27" y="148.75" width="1.3" height="1.3" fill="#67a867"/>
<rect x="151.99" y="146.55" width="1.3" height="1.3" fill="#67a867"/>
<rect x="159.71" y="144.55" width="1.3" height="1.3" fill="#67a867"/>
<rect x="167.42" y="142.75" width="1.3" height="1.3" fill="#67a867"/>
<rect x="175.14" y="140.55" width="1.3" height="1.3" fill="#67a867"/>
<rect x="182.85" y="138.35" width="1.3" height="1.3" fill="#67a867"/>
<text x="33.54" y="167.6" class="lb" textLength="6.73" lengthAdjust="spacingAndGlyphs">128.38</text>
<text x="41.25" y="169.7" class="lb" textLength="6.73" lengthAdjust="spacingAndGlyphs">124.02</text>
<text x="48.97" y="168.8" class="lb" textLength="6.73" lengthAdjust="spacingAndGlyphs">125.89</text>
<text x="56.68" y="167.5" class="lb" textLength="6.73" lengthAdjust="spacingAndGlyphs">128.59</text>
<text x="64.4" y="166" class="lb" textLength="6.73" lengthAdjust="spacingAndGlyphs">131.70</text>
<text x="72.12" y="164.6" class="lb" textLength="6.73" lengthAdjust="spacingAndGlyphs">134.61</text>
<text x="79.83" y="162.83" class="lb" textLength="6.73" lengthAdjust="spacingAndGlyphs">138.27</text>
<text x="87.55" y="161.07" class="lb" textLength="6.73" lengthAdjust="spacingAndGlyphs">141.94</text>
<text x="95.26" y="159.3" class="lb" textLength="6.73" lengthAdjust="spacingAndGlyphs">145.61</text>
<text x="102.98" y="157.8" class="lb" textLength="6.73" lengthAdjust="spacingAndGlyphs">148.72</text>
<text x="110.7" y="156.4" class="lb" textLength="6.73" lengthAdjust="spacingAndGlyphs">151.63</text>
<text x="118.41" y="154.5" class="lb" textLength="6.73" lengthAdjust="spacingAndGlyphs">155.57</text>
<text x="126.13" y="152.6" class="lb" textLength="6.73" lengthAdjust="spacingAndGlyphs">159.52</text>
<text x="133.84" y="150.4" class="lb" textLength="6.73" lengthAdjust="spacingAndGlyphs">164.09</text>
<text x="141.56" y="148.8" class="lb" textLength="6.73" lengthAdjust="spacingAndGlyphs">167.41</text>
<text x="149.28" y="146.6" class="lb" textLength="6.73" lengthAdjust="spacingAndGlyphs">171.97</text>
<text x="156.99" y="144.6" class="lb" textLength="6.73" lengthAdjust="spacingAndGlyphs">176.13</text>
<text x="164.71" y="142.8" class="lb" textLength="6.73" lengthAdjust="spacingAndGlyphs">179.86</text>
<text x="172.42" y="140.6" class="lb" textLength="6.73" lengthAdjust="spacingAndGlyphs">184.43</text>
<text x="180.14" y="138.4" class="lb" textLength="6.73" lengthAdjust="spacingAndGlyphs">189.00</text>
<path d="M211.8 133.7V196.3M219.47 133.7V196.3M227.14 133.7V196.3M234.81 133.7V196.3M242.48 133.7V196.3M250.15 133.7V196.3M257.82 133.7V196.3M265.49 133.7V196.3M273.16 133.7V196.3M280.83 133.7V196.3M288.5 133.7V196.3M296.17 133.7V196.3M303.84 133.7V196.3M311.51 133.7V196.3M319.18 133.7V196.3M326.85 133.7V196.3M334.52 133.7V196.3M342.19 133.7V196.3M349.86 133.7V196.3M357.53 133.7V196.3M204.3 192.1H365.3M204.3 182.37H365.3M204.3 172.64H365.3M204.3 162.9H365.3M204.3 153.17H365.3M204.3 143.43H365.3M204.3 133.7H365.3" stroke="#eeeeee" stroke-width="0.5" fill="none"/>
<rect x="204.3" y="133.7" width="161" height="62.6" fill="none" stroke="#d4d4d4" stroke-width="0.7"/>
<text x="211.8" y="200.8" class="tk" text-anchor="middle">0</text>
<text x="219.47" y="200.8" class="tk" text-anchor="middle">1</text>
<text x="227.14" y="200.8" class="tk" text-anchor="middle">2</text>
<text x="234.81" y="200.8" class="tk" text-anchor="middle">3</text>
<text x="242.48" y="200.8" class="tk" text-anchor="middle">4</text>
<text x="250.15" y="200.8" class="tk" text-anchor="middle">5</text>
<text x="257.82" y="200.8" class="tk" text-anchor="middle">6</text>
<text x="265.49" y="200.8" class="tk" text-anchor="middle">7</text>
<text x="273.16" y="200.8" class="tk" text-anchor="middle">8</text>
<text x="280.83" y="200.8" class="tk" text-anchor="middle">9</text>
<text x="288.5" y="200.8" class="tk" text-anchor="middle">10</text>
<text x="296.17" y="200.8" class="tk" text-anchor="middle">11</text>
<text x="303.84" y="200.8" class="tk" text-anchor="middle">12</text>
<text x="311.51" y="200.8" class="tk" text-anchor="middle">13</text>
<text x="319.18" y="200.8" class="tk" text-anchor="middle">14</text>
<text x="326.85" y="200.8" class="tk" text-anchor="middle">15</text>
<text x="334.52" y="200.8" class="tk" text-anchor="middle">16</text>
<text x="342.19" y="200.8" class="tk" text-anchor="middle">17</text>
<text x="349.86" y="200.8" class="tk" text-anchor="middle">18</text>
<text x="357.53" y="200.8" class="tk" text-anchor="middle">19</text>
<text x="202.8" y="193.85" class="tk" text-anchor="end">80</text>
<path d="M203 192.1H204.3" stroke="#666" stroke-width="0.4"/>
<text x="202.8" y="184.12" class="tk" text-anchor="end">100</text>
<path d="M203 182.37H204.3" stroke="#666" stroke-width="0.4"/>
<text x="202.8" y="174.39" class="tk" text-anchor="end">120</text>
<path d="M203 172.64H204.3" stroke="#666" stroke-width="0.4"/>
<text x="202.8" y="164.65" class="tk" text-anchor="end">140</text>
<path d="M203 162.9H204.3" stroke="#666" stroke-width="0.4"/>
<text x="202.8" y="154.92" class="tk" text-anchor="end">160</text>
<path d="M203 153.17H204.3" stroke="#666" stroke-width="0.4"/>
<text x="202.8" y="145.18" class="tk" text-anchor="end">180</text>
<path d="M203 143.43H204.3" stroke="#666" stroke-width="0.4"/>
<text x="202.8" y="135.45" class="tk" text-anchor="end">200</text>
<path d="M203 133.7H204.3" stroke="#666" stroke-width="0.4"/>
<polyline points="211.8,190.8 219.47,189.5 227.14,188.7 234.81,187.5 242.48,186.4 250.15,187.4 257.82,186.2 265.49,185.1 273.16,183.9 280.83,182.7 288.5,181.3 296.17,180 303.84,178.4 311.51,176.8 319.18,175.65 326.85,174.5 334.52,172.9 342.19,171.3 349.86,170.1 357.53,168.9" fill="none" stroke="#ff9c9c" stroke-width="0.95"/>
<rect x="211.15" y="190.15" width="1.3" height="1.3" fill="#ff4d6a"/>
<rect x="218.82" y="188.85" width="1.3" height="1.3" fill="#ff4d6a"/>
<rect x="226.49" y="188.05" width="1.3" height="1.3" fill="#ff4d6a"/>
<rect x="234.16" y="186.85" width="1.3" height="1.3" fill="#ff4d6a"/>
<rect x="241.83" y="185.75" width="1.3" height="1.3" fill="#ff4d6a"/>
<rect x="249.5" y="186.75" width="1.3" height="1.3" fill="#ff4d6a"/>
<rect x="257.17" y="185.55" width="1.3" height="1.3" fill="#ff4d6a"/>
<rect x="264.84" y="184.45" width="1.3" height="1.3" fill="#ff4d6a"/>
<rect x="272.51" y="183.25" width="1.3" height="1.3" fill="#ff4d6a"/>
<rect x="280.18" y="182.05" width="1.3" height="1.3" fill="#ff4d6a"/>
<rect x="287.85" y="180.65" width="1.3" height="1.3" fill="#ff4d6a"/>
<rect x="295.52" y="179.35" width="1.3" height="1.3" fill="#ff4d6a"/>
<rect x="303.19" y="177.75" width="1.3" height="1.3" fill="#ff4d6a"/>
<rect x="310.86" y="176.15" width="1.3" height="1.3" fill="#ff4d6a"/>
<rect x="318.53" y="175" width="1.3" height="1.3" fill="#ff4d6a"/>
<rect x="326.2" y="173.85" width="1.3" height="1.3" fill="#ff4d6a"/>
<rect x="333.87" y="172.25" width="1.3" height="1.3" fill="#ff4d6a"/>
<rect x="341.54" y="170.65" width="1.3" height="1.3" fill="#ff4d6a"/>
<rect x="349.21" y="169.45" width="1.3" height="1.3" fill="#ff4d6a"/>
<rect x="356.88" y="168.25" width="1.3" height="1.3" fill="#ff4d6a"/>
<text x="209.05" y="190.2" class="lb" textLength="5.5" lengthAdjust="spacingAndGlyphs">82.68</text>
<text x="216.72" y="188.9" class="lb" textLength="5.5" lengthAdjust="spacingAndGlyphs">85.35</text>
<text x="224.39" y="188.1" class="lb" textLength="5.5" lengthAdjust="spacingAndGlyphs">86.99</text>
<text x="232.06" y="186.9" class="lb" textLength="5.5" lengthAdjust="spacingAndGlyphs">89.46</text>
<text x="239.73" y="185.8" class="lb" textLength="5.5" lengthAdjust="spacingAndGlyphs">91.72</text>
<text x="247.4" y="186.8" class="lb" textLength="5.5" lengthAdjust="spacingAndGlyphs">89.67</text>
<text x="255.07" y="185.6" class="lb" textLength="5.5" lengthAdjust="spacingAndGlyphs">92.13</text>
<text x="262.74" y="184.5" class="lb" textLength="5.5" lengthAdjust="spacingAndGlyphs">94.39</text>
<text x="270.41" y="183.3" class="lb" textLength="5.5" lengthAdjust="spacingAndGlyphs">96.86</text>
<text x="278.08" y="182.1" class="lb" textLength="5.5" lengthAdjust="spacingAndGlyphs">99.32</text>
<text x="285.14" y="180.7" class="lb" textLength="6.73" lengthAdjust="spacingAndGlyphs">102.20</text>
<text x="292.81" y="179.4" class="lb" textLength="6.73" lengthAdjust="spacingAndGlyphs">104.87</text>
<text x="300.48" y="177.8" class="lb" textLength="6.73" lengthAdjust="spacingAndGlyphs">108.16</text>
<text x="308.15" y="176.2" class="lb" textLength="6.73" lengthAdjust="spacingAndGlyphs">111.44</text>
<text x="315.82" y="175.05" class="lb" textLength="6.73" lengthAdjust="spacingAndGlyphs">113.81</text>
<text x="323.49" y="173.9" class="lb" textLength="6.73" lengthAdjust="spacingAndGlyphs">116.17</text>
<text x="331.16" y="172.3" class="lb" textLength="6.73" lengthAdjust="spacingAndGlyphs">119.46</text>
<text x="338.83" y="170.7" class="lb" textLength="6.73" lengthAdjust="spacingAndGlyphs">122.75</text>
<text x="346.5" y="169.5" class="lb" textLength="6.73" lengthAdjust="spacingAndGlyphs">125.21</text>
<text x="354.17" y="168.3" class="lb" textLength="6.73" lengthAdjust="spacingAndGlyphs">127.68</text>
<polyline points="211.8,192 219.47,190.8 227.14,189.8 234.81,189.5 242.48,188.4 250.15,191.8 257.82,190.7 265.49,189.5 273.16,188.4 280.83,187.1 288.5,186 296.17,184.5 303.84,183.5 311.51,181.6 319.18,180.4 326.85,179.2 334.52,178.4 342.19,177.6 349.86,176.45 357.53,175.3" fill="none" stroke="#a4a4ff" stroke-width="0.85" stroke-dasharray="2.8 0.6"/>
<rect x="211.15" y="191.35" width="1.3" height="1.3" fill="#5e5ef2"/>
<rect x="218.82" y="190.15" width="1.3" height="1.3" fill="#5e5ef2"/>
<rect x="226.49" y="189.15" width="1.3" height="1.3" fill="#5e5ef2"/>
<rect x="234.16" y="188.85" width="1.3" height="1.3" fill="#5e5ef2"/>
<rect x="241.83" y="187.75" width="1.3" height="1.3" fill="#5e5ef2"/>
<rect x="249.5" y="191.15" width="1.3" height="1.3" fill="#5e5ef2"/>
<rect x="257.17" y="190.05" width="1.3" height="1.3" fill="#5e5ef2"/>
<rect x="264.84" y="188.85" width="1.3" height="1.3" fill="#5e5ef2"/>
<rect x="272.51" y="187.75" width="1.3" height="1.3" fill="#5e5ef2"/>
<rect x="280.18" y="186.45" width="1.3" height="1.3" fill="#5e5ef2"/>
<rect x="287.85" y="185.35" width="1.3" height="1.3" fill="#5e5ef2"/>
<rect x="295.52" y="183.85" width="1.3" height="1.3" fill="#5e5ef2"/>
<rect x="303.19" y="182.85" width="1.3" height="1.3" fill="#5e5ef2"/>
<rect x="310.86" y="180.95" width="1.3" height="1.3" fill="#5e5ef2"/>
<rect x="318.53" y="179.75" width="1.3" height="1.3" fill="#5e5ef2"/>
<rect x="326.2" y="178.55" width="1.3" height="1.3" fill="#5e5ef2"/>
<rect x="333.87" y="177.75" width="1.3" height="1.3" fill="#5e5ef2"/>
<rect x="341.54" y="176.95" width="1.3" height="1.3" fill="#5e5ef2"/>
<rect x="349.21" y="175.8" width="1.3" height="1.3" fill="#5e5ef2"/>
<rect x="356.88" y="174.65" width="1.3" height="1.3" fill="#5e5ef2"/>
<text x="209.05" y="194.1" class="lb" textLength="5.5" lengthAdjust="spacingAndGlyphs">80.21</text>
<text x="216.72" y="192.9" class="lb" textLength="5.5" lengthAdjust="spacingAndGlyphs">82.68</text>
<text x="224.39" y="191.9" class="lb" textLength="5.5" lengthAdjust="spacingAndGlyphs">84.73</text>
<text x="232.06" y="191.6" class="lb" textLength="5.5" lengthAdjust="spacingAndGlyphs">85.35</text>
<text x="239.73" y="190.5" class="lb" textLength="5.5" lengthAdjust="spacingAndGlyphs">87.61</text>
<text x="247.4" y="193.9" class="lb" textLength="5.5" lengthAdjust="spacingAndGlyphs">80.62</text>
<text x="255.07" y="192.8" class="lb" textLength="5.5" lengthAdjust="spacingAndGlyphs">82.88</text>
<text x="262.74" y="191.6" class="lb" textLength="5.5" lengthAdjust="spacingAndGlyphs">85.35</text>
<text x="270.41" y="190.5" class="lb" textLength="5.5" lengthAdjust="spacingAndGlyphs">87.61</text>
<text x="278.08" y="189.2" class="lb" textLength="5.5" lengthAdjust="spacingAndGlyphs">90.28</text>
<text x="285.75" y="188.1" class="lb" textLength="5.5" lengthAdjust="spacingAndGlyphs">92.54</text>
<text x="293.42" y="186.6" class="lb" textLength="5.5" lengthAdjust="spacingAndGlyphs">95.62</text>
<text x="301.09" y="185.6" class="lb" textLength="5.5" lengthAdjust="spacingAndGlyphs">97.68</text>
<text x="308.15" y="183.7" class="lb" textLength="6.73" lengthAdjust="spacingAndGlyphs">101.58</text>
<text x="315.82" y="182.5" class="lb" textLength="6.73" lengthAdjust="spacingAndGlyphs">104.05</text>
<text x="323.49" y="181.3" class="lb" textLength="6.73" lengthAdjust="spacingAndGlyphs">106.51</text>
<text x="331.16" y="180.5" class="lb" textLength="6.73" lengthAdjust="spacingAndGlyphs">108.16</text>
<text x="338.83" y="179.7" class="lb" textLength="6.73" lengthAdjust="spacingAndGlyphs">109.80</text>
<text x="346.5" y="178.55" class="lb" textLength="6.73" lengthAdjust="spacingAndGlyphs">112.16</text>
<text x="354.17" y="177.4" class="lb" textLength="6.73" lengthAdjust="spacingAndGlyphs">114.53</text>
<polyline points="211.8,163.2 219.47,176.6 227.14,177.4 234.81,176.7 242.48,176.3 250.15,175.6 257.82,174.7 265.49,174 273.16,172.6 280.83,171.3 288.5,169.9 296.17,168.9 303.84,167.7 311.51,166.6 319.18,165.45 326.85,164.3 334.52,163.05 342.19,161.8 349.86,160.45 357.53,159.1" fill="none" stroke="#b2dcb2" stroke-width="0.8" stroke-dasharray="0.9 0.5"/>
<rect x="211.15" y="162.55" width="1.3" height="1.3" fill="#67a867"/>
<rect x="218.82" y="175.95" width="1.3" height="1.3" fill="#67a867"/>
<rect x="226.49" y="176.75" width="1.3" height="1.3" fill="#67a867"/>
<rect x="234.16" y="176.05" width="1.3" height="1.3" fill="#67a867"/>
<rect x="241.83" y="175.65" width="1.3" height="1.3" fill="#67a867"/>
<rect x="249.5" y="174.95" width="1.3" height="1.3" fill="#67a867"/>
<rect x="257.17" y="174.05" width="1.3" height="1.3" fill="#67a867"/>
<rect x="264.84" y="173.35" width="1.3" height="1.3" fill="#67a867"/>
<rect x="272.51" y="171.95" width="1.3" height="1.3" fill="#67a867"/>
<rect x="280.18" y="170.65" width="1.3" height="1.3" fill="#67a867"/>
<rect x="287.85" y="169.25" width="1.3" height="1.3" fill="#67a867"/>
<rect x="295.52" y="168.25" width="1.3" height="1.3" fill="#67a867"/>
<rect x="303.19" y="167.05" width="1.3" height="1.3" fill="#67a867"/>
<rect x="310.86" y="165.95" width="1.3" height="1.3" fill="#67a867"/>
<rect x="318.53" y="164.8" width="1.3" height="1.3" fill="#67a867"/>
<rect x="326.2" y="163.65" width="1.3" height="1.3" fill="#67a867"/>
<rect x="333.87" y="162.4" width="1.3" height="1.3" fill="#67a867"/>
<rect x="341.54" y="161.15" width="1.3" height="1.3" fill="#67a867"/>
<rect x="349.21" y="159.8" width="1.3" height="1.3" fill="#67a867"/>
<rect x="356.88" y="158.45" width="1.3" height="1.3" fill="#67a867"/>
<text x="208.44" y="162.6" class="lb" textLength="6.73" lengthAdjust="spacingAndGlyphs">139.39</text>
<text x="216.11" y="176" class="lb" textLength="6.73" lengthAdjust="spacingAndGlyphs">111.86</text>
<text x="223.78" y="176.8" class="lb" textLength="6.73" lengthAdjust="spacingAndGlyphs">110.21</text>
<text x="231.45" y="176.1" class="lb" textLength="6.73" lengthAdjust="spacingAndGlyphs">111.65</text>
<text x="239.12" y="175.7" class="lb" textLength="6.73" lengthAdjust="spacingAndGlyphs">112.47</text>
<text x="246.79" y="175" class="lb" textLength="6.73" lengthAdjust="spacingAndGlyphs">113.91</text>
<text x="254.46" y="174.1" class="lb" textLength="6.73" lengthAdjust="spacingAndGlyphs">115.76</text>
<text x="262.13" y="173.4" class="lb" textLength="6.73" lengthAdjust="spacingAndGlyphs">117.20</text>
<text x="269.8" y="172" class="lb" textLength="6.73" lengthAdjust="spacingAndGlyphs">120.07</text>
<text x="277.47" y="170.7" class="lb" textLength="6.73" lengthAdjust="spacingAndGlyphs">122.75</text>
<text x="285.14" y="169.3" class="lb" textLength="6.73" lengthAdjust="spacingAndGlyphs">125.62</text>
<text x="292.81" y="168.3" class="lb" textLength="6.73" lengthAdjust="spacingAndGlyphs">127.68</text>
<text x="300.48" y="167.1" class="lb" textLength="6.73" lengthAdjust="spacingAndGlyphs">130.14</text>
<text x="308.15" y="166" class="lb" textLength="6.73" lengthAdjust="spacingAndGlyphs">132.40</text>
<text x="315.82" y="164.85" class="lb" textLength="6.73" lengthAdjust="spacingAndGlyphs">134.76</text>
<text x="323.49" y="163.7" class="lb" textLength="6.73" lengthAdjust="spacingAndGlyphs">137.13</text>
<text x="331.16" y="162.45" class="lb" textLength="6.73" lengthAdjust="spacingAndGlyphs">139.70</text>
<text x="338.83" y="161.2" class="lb" textLength="6.73" lengthAdjust="spacingAndGlyphs">142.26</text>
<text x="346.5" y="159.85" class="lb" textLength="6.73" lengthAdjust="spacingAndGlyphs">145.04</text>
<text x="354.17" y="158.5" class="lb" textLength="6.73" lengthAdjust="spacingAndGlyphs">147.81</text>
<path d="M386.5 133.7V196.3M394.2 133.7V196.3M401.91 133.7V196.3M409.62 133.7V196.3M417.32 133.7V196.3M425.02 133.7V196.3M432.73 133.7V196.3M440.44 133.7V196.3M448.14 133.7V196.3M455.85 133.7V196.3M463.55 133.7V196.3M471.25 133.7V196.3M478.96 133.7V196.3M486.67 133.7V196.3M494.37 133.7V196.3M502.07 133.7V196.3M509.78 133.7V196.3M517.49 133.7V196.3M525.19 133.7V196.3M532.89 133.7V196.3M379.6 191.78H540.3M379.6 182.1H540.3M379.6 172.42H540.3M379.6 162.74H540.3M379.6 153.06H540.3M379.6 143.38H540.3M379.6 133.7H540.3" stroke="#eeeeee" stroke-width="0.5" fill="none"/>
<rect x="379.6" y="133.7" width="160.7" height="62.6" fill="none" stroke="#d4d4d4" stroke-width="0.7"/>
<text x="386.5" y="200.8" class="tk" text-anchor="middle">0</text>
<text x="394.2" y="200.8" class="tk" text-anchor="middle">1</text>
<text x="401.91" y="200.8" class="tk" text-anchor="middle">2</text>
<text x="409.62" y="200.8" class="tk" text-anchor="middle">3</text>
<text x="417.32" y="200.8" class="tk" text-anchor="middle">4</text>
<text x="425.02" y="200.8" class="tk" text-anchor="middle">5</text>
<text x="432.73" y="200.8" class="tk" text-anchor="middle">6</text>
<text x="440.44" y="200.8" class="tk" text-anchor="middle">7</text>
<text x="448.14" y="200.8" class="tk" text-anchor="middle">8</text>
<text x="455.85" y="200.8" class="tk" text-anchor="middle">9</text>
<text x="463.55" y="200.8" class="tk" text-anchor="middle">10</text>
<text x="471.25" y="200.8" class="tk" text-anchor="middle">11</text>
<text x="478.96" y="200.8" class="tk" text-anchor="middle">12</text>
<text x="486.67" y="200.8" class="tk" text-anchor="middle">13</text>
<text x="494.37" y="200.8" class="tk" text-anchor="middle">14</text>
<text x="502.07" y="200.8" class="tk" text-anchor="middle">15</text>
<text x="509.78" y="200.8" class="tk" text-anchor="middle">16</text>
<text x="517.49" y="200.8" class="tk" text-anchor="middle">17</text>
<text x="525.19" y="200.8" class="tk" text-anchor="middle">18</text>
<text x="532.89" y="200.8" class="tk" text-anchor="middle">19</text>
<text x="378.1" y="193.53" class="tk" text-anchor="end">80</text>
<path d="M378.3 191.78H379.6" stroke="#666" stroke-width="0.4"/>
<text x="378.1" y="183.85" class="tk" text-anchor="end">100</text>
<path d="M378.3 182.1H379.6" stroke="#666" stroke-width="0.4"/>
<text x="378.1" y="174.17" class="tk" text-anchor="end">120</text>
<path d="M378.3 172.42H379.6" stroke="#666" stroke-width="0.4"/>
<text x="378.1" y="164.49" class="tk" text-anchor="end">140</text>
<path d="M378.3 162.74H379.6" stroke="#666" stroke-width="0.4"/>
<text x="378.1" y="154.81" class="tk" text-anchor="end">160</text>
<path d="M378.3 153.06H379.6" stroke="#666" stroke-width="0.4"/>
<text x="378.1" y="145.13" class="tk" text-anchor="end">180</text>
<path d="M378.3 143.38H379.6" stroke="#666" stroke-width="0.4"/>
<text x="378.1" y="135.45" class="tk" text-anchor="end">200</text>
<path d="M378.3 133.7H379.6" stroke="#666" stroke-width="0.4"/>
<polyline points="386.5,189 394.2,187.9 401.91,186.8 409.62,185.7 417.32,184.4 425.02,187.3 432.73,186.4 440.44,185.3 448.14,184.1 455.85,182.7 463.55,181.5 471.25,180.4 478.96,179 486.67,177.4 494.37,176 502.07,175 509.78,173.5 517.49,172.2 525.19,170.5 532.89,169" fill="none" stroke="#ff9c9c" stroke-width="0.95"/>
<rect x="385.85" y="188.35" width="1.3" height="1.3" fill="#ff4d6a"/>
<rect x="393.56" y="187.25" width="1.3" height="1.3" fill="#ff4d6a"/>
<rect x="401.26" y="186.15" width="1.3" height="1.3" fill="#ff4d6a"/>
<rect x="408.97" y="185.05" width="1.3" height="1.3" fill="#ff4d6a"/>
<rect x="416.67" y="183.75" width="1.3" height="1.3" fill="#ff4d6a"/>
<rect x="424.38" y="186.65" width="1.3" height="1.3" fill="#ff4d6a"/>
<rect x="432.08" y="185.75" width="1.3" height="1.3" fill="#ff4d6a"/>
<rect x="439.79" y="184.65" width="1.3" height="1.3" fill="#ff4d6a"/>
<rect x="447.49" y="183.45" width="1.3" height="1.3" fill="#ff4d6a"/>
<rect x="455.2" y="182.05" width="1.3" height="1.3" fill="#ff4d6a"/>
<rect x="462.9" y="180.85" width="1.3" height="1.3" fill="#ff4d6a"/>
<rect x="470.61" y="179.75" width="1.3" height="1.3" fill="#ff4d6a"/>
<rect x="478.31" y="178.35" width="1.3" height="1.3" fill="#ff4d6a"/>
<rect x="486.02" y="176.75" width="1.3" height="1.3" fill="#ff4d6a"/>
<rect x="493.72" y="175.35" width="1.3" height="1.3" fill="#ff4d6a"/>
<rect x="501.43" y="174.35" width="1.3" height="1.3" fill="#ff4d6a"/>
<rect x="509.13" y="172.85" width="1.3" height="1.3" fill="#ff4d6a"/>
<rect x="516.84" y="171.55" width="1.3" height="1.3" fill="#ff4d6a"/>
<rect x="524.54" y="169.85" width="1.3" height="1.3" fill="#ff4d6a"/>
<rect x="532.25" y="168.35" width="1.3" height="1.3" fill="#ff4d6a"/>
<text x="383.75" y="188.4" class="lb" textLength="5.5" lengthAdjust="spacingAndGlyphs">85.74</text>
<text x="391.45" y="187.3" class="lb" textLength="5.5" lengthAdjust="spacingAndGlyphs">88.02</text>
<text x="399.16" y="186.2" class="lb" textLength="5.5" lengthAdjust="spacingAndGlyphs">90.29</text>
<text x="406.86" y="185.1" class="lb" textLength="5.5" lengthAdjust="spacingAndGlyphs">92.56</text>
<text x="414.57" y="183.8" class="lb" textLength="5.5" lengthAdjust="spacingAndGlyphs">95.25</text>
<text x="422.27" y="186.7" class="lb" textLength="5.5" lengthAdjust="spacingAndGlyphs">89.26</text>
<text x="429.98" y="185.8" class="lb" textLength="5.5" lengthAdjust="spacingAndGlyphs">91.12</text>
<text x="437.68" y="184.7" class="lb" textLength="5.5" lengthAdjust="spacingAndGlyphs">93.39</text>
<text x="445.39" y="183.5" class="lb" textLength="5.5" lengthAdjust="spacingAndGlyphs">95.87</text>
<text x="453.09" y="182.1" class="lb" textLength="5.5" lengthAdjust="spacingAndGlyphs">98.76</text>
<text x="460.19" y="180.9" class="lb" textLength="6.73" lengthAdjust="spacingAndGlyphs">101.24</text>
<text x="467.89" y="179.8" class="lb" textLength="6.73" lengthAdjust="spacingAndGlyphs">103.51</text>
<text x="475.6" y="178.4" class="lb" textLength="6.73" lengthAdjust="spacingAndGlyphs">106.40</text>
<text x="483.3" y="176.8" class="lb" textLength="6.73" lengthAdjust="spacingAndGlyphs">109.71</text>
<text x="491.01" y="175.4" class="lb" textLength="6.73" lengthAdjust="spacingAndGlyphs">112.60</text>
<text x="498.71" y="174.4" class="lb" textLength="6.73" lengthAdjust="spacingAndGlyphs">114.67</text>
<text x="506.42" y="172.9" class="lb" textLength="6.73" lengthAdjust="spacingAndGlyphs">117.77</text>
<text x="514.12" y="171.6" class="lb" textLength="6.73" lengthAdjust="spacingAndGlyphs">120.45</text>
<text x="521.83" y="169.9" class="lb" textLength="6.73" lengthAdjust="spacingAndGlyphs">123.97</text>
<text x="529.53" y="168.4" class="lb" textLength="6.73" lengthAdjust="spacingAndGlyphs">127.07</text>
<polyline points="386.5,189.5 394.2,188.4 401.91,187.3 409.62,186.2 417.32,184.9 425.02,190 432.73,189.3 440.44,188.2 448.14,187.1 455.85,185.9 463.55,184.9 471.25,183.5 478.96,182.5 486.67,181.2 494.37,179.8 502.07,178.5 509.78,177 517.49,175.5 525.19,174 532.89,172.8" fill="none" stroke="#a4a4ff" stroke-width="0.85" stroke-dasharray="2.8 0.6"/>
<rect x="385.85" y="188.85" width="1.3" height="1.3" fill="#5e5ef2"/>
<rect x="393.56" y="187.75" width="1.3" height="1.3" fill="#5e5ef2"/>
<rect x="401.26" y="186.65" width="1.3" height="1.3" fill="#5e5ef2"/>
<rect x="408.97" y="185.55" width="1.3" height="1.3" fill="#5e5ef2"/>
<rect x="416.67" y="184.25" width="1.3" height="1.3" fill="#5e5ef2"/>
<rect x="424.38" y="189.35" width="1.3" height="1.3" fill="#5e5ef2"/>
<rect x="432.08" y="188.65" width="1.3" height="1.3" fill="#5e5ef2"/>
<rect x="439.79" y="187.55" width="1.3" height="1.3" fill="#5e5ef2"/>
<rect x="447.49" y="186.45" width="1.3" height="1.3" fill="#5e5ef2"/>
<rect x="455.2" y="185.25" width="1.3" height="1.3" fill="#5e5ef2"/>
<rect x="462.9" y="184.25" width="1.3" height="1.3" fill="#5e5ef2"/>
<rect x="470.61" y="182.85" width="1.3" height="1.3" fill="#5e5ef2"/>
<rect x="478.31" y="181.85" width="1.3" height="1.3" fill="#5e5ef2"/>
<rect x="486.02" y="180.55" width="1.3" height="1.3" fill="#5e5ef2"/>
<rect x="493.72" y="179.15" width="1.3" height="1.3" fill="#5e5ef2"/>
<rect x="501.43" y="177.85" width="1.3" height="1.3" fill="#5e5ef2"/>
<rect x="509.13" y="176.35" width="1.3" height="1.3" fill="#5e5ef2"/>
<rect x="516.84" y="174.85" width="1.3" height="1.3" fill="#5e5ef2"/>
<rect x="524.54" y="173.35" width="1.3" height="1.3" fill="#5e5ef2"/>
<rect x="532.25" y="172.15" width="1.3" height="1.3" fill="#5e5ef2"/>
<text x="383.75" y="191.6" class="lb" textLength="5.5" lengthAdjust="spacingAndGlyphs">84.71</text>
<text x="391.45" y="190.5" class="lb" textLength="5.5" lengthAdjust="spacingAndGlyphs">86.98</text>
<text x="399.16" y="189.4" class="lb" textLength="5.5" lengthAdjust="spacingAndGlyphs">89.26</text>
<text x="406.86" y="188.3" class="lb" textLength="5.5" lengthAdjust="spacingAndGlyphs">91.53</text>
<text x="414.57" y="187" class="lb" textLength="5.5" lengthAdjust="spacingAndGlyphs">94.21</text>
<text x="422.27" y="192.1" class="lb" textLength="5.5" lengthAdjust="spacingAndGlyphs">83.68</text>
<text x="429.98" y="191.4" class="lb" textLength="5.5" lengthAdjust="spacingAndGlyphs">85.12</text>
<text x="437.68" y="190.3" class="lb" textLength="5.5" lengthAdjust="spacingAndGlyphs">87.40</text>
<text x="445.39" y="189.2" class="lb" textLength="5.5" lengthAdjust="spacingAndGlyphs">89.67</text>
<text x="453.09" y="188" class="lb" textLength="5.5" lengthAdjust="spacingAndGlyphs">92.15</text>
<text x="460.8" y="187" class="lb" textLength="5.5" lengthAdjust="spacingAndGlyphs">94.21</text>
<text x="468.5" y="185.6" class="lb" textLength="5.5" lengthAdjust="spacingAndGlyphs">97.11</text>
<text x="476.21" y="184.6" class="lb" textLength="5.5" lengthAdjust="spacingAndGlyphs">99.17</text>
<text x="483.3" y="183.3" class="lb" textLength="6.73" lengthAdjust="spacingAndGlyphs">101.86</text>
<text x="491.01" y="181.9" class="lb" textLength="6.73" lengthAdjust="spacingAndGlyphs">104.75</text>
<text x="498.71" y="180.6" class="lb" textLength="6.73" lengthAdjust="spacingAndGlyphs">107.44</text>
<text x="506.42" y="179.1" class="lb" textLength="6.73" lengthAdjust="spacingAndGlyphs">110.54</text>
<text x="514.12" y="177.6" class="lb" textLength="6.73" lengthAdjust="spacingAndGlyphs">113.64</text>
<text x="521.83" y="176.1" class="lb" textLength="6.73" lengthAdjust="spacingAndGlyphs">116.74</text>
<text x="529.53" y="174.9" class="lb" textLength="6.73" lengthAdjust="spacingAndGlyphs">119.21</text>
<polyline points="386.5,159 394.2,162 401.91,165.3 409.62,168.2 417.32,167.6 425.02,173.2 432.73,172.4 440.44,171.5 448.14,170.4 455.85,169 463.55,167.6 471.25,166.2 478.96,165.1 486.67,163.9 494.37,162.5 502.07,161.3 509.78,159.8 517.49,158.1 525.19,156.6 532.89,155" fill="none" stroke="#b2dcb2" stroke-width="0.8" stroke-dasharray="0.9 0.5"/>
<rect x="385.85" y="158.35" width="1.3" height="1.3" fill="#67a867"/>
<rect x="393.56" y="161.35" width="1.3" height="1.3" fill="#67a867"/>
<rect x="401.26" y="164.65" width="1.3" height="1.3" fill="#67a867"/>
<rect x="408.97" y="167.55" width="1.3" height="1.3" fill="#67a867"/>
<rect x="416.67" y="166.95" width="1.3" height="1.3" fill="#67a867"/>
<rect x="424.38" y="172.55" width="1.3" height="1.3" fill="#67a867"/>
<rect x="432.08" y="171.75" width="1.3" height="1.3" fill="#67a867"/>
<rect x="439.79" y="170.85" width="1.3" height="1.3" fill="#67a867"/>
<rect x="447.49" y="169.75" width="1.3" height="1.3" fill="#67a867"/>
<rect x="455.2" y="168.35" width="1.3" height="1.3" fill="#67a867"/>
<rect x="462.9" y="166.95" width="1.3" height="1.3" fill="#67a867"/>
<rect x="470.61" y="165.55" width="1.3" height="1.3" fill="#67a867"/>
<rect x="478.31" y="164.45" width="1.3" height="1.3" fill="#67a867"/>
<rect x="486.02" y="163.25" width="1.3" height="1.3" fill="#67a867"/>
<rect x="493.72" y="161.85" width="1.3" height="1.3" fill="#67a867"/>
<rect x="501.43" y="160.65" width="1.3" height="1.3" fill="#67a867"/>
<rect x="509.13" y="159.15" width="1.3" height="1.3" fill="#67a867"/>
<rect x="516.84" y="157.45" width="1.3" height="1.3" fill="#67a867"/>
<rect x="524.54" y="155.95" width="1.3" height="1.3" fill="#67a867"/>
<rect x="532.25" y="154.35" width="1.3" height="1.3" fill="#67a867"/>
<text x="383.14" y="158.4" class="lb" textLength="6.73" lengthAdjust="spacingAndGlyphs">147.73</text>
<text x="390.84" y="161.4" class="lb" textLength="6.73" lengthAdjust="spacingAndGlyphs">141.53</text>
<text x="398.55" y="164.7" class="lb" textLength="6.73" lengthAdjust="spacingAndGlyphs">134.71</text>
<text x="406.25" y="167.6" class="lb" textLength="6.73" lengthAdjust="spacingAndGlyphs">128.72</text>
<text x="413.96" y="167" class="lb" textLength="6.73" lengthAdjust="spacingAndGlyphs">129.96</text>
<text x="421.66" y="172.6" class="lb" textLength="6.73" lengthAdjust="spacingAndGlyphs">118.39</text>
<text x="429.37" y="171.8" class="lb" textLength="6.73" lengthAdjust="spacingAndGlyphs">120.04</text>
<text x="437.07" y="170.9" class="lb" textLength="6.73" lengthAdjust="spacingAndGlyphs">121.90</text>
<text x="444.78" y="169.8" class="lb" textLength="6.73" lengthAdjust="spacingAndGlyphs">124.17</text>
<text x="452.48" y="168.4" class="lb" textLength="6.73" lengthAdjust="spacingAndGlyphs">127.07</text>
<text x="460.19" y="167" class="lb" textLength="6.73" lengthAdjust="spacingAndGlyphs">129.96</text>
<text x="467.89" y="165.6" class="lb" textLength="6.73" lengthAdjust="spacingAndGlyphs">132.85</text>
<text x="475.6" y="164.5" class="lb" textLength="6.73" lengthAdjust="spacingAndGlyphs">135.12</text>
<text x="483.3" y="163.3" class="lb" textLength="6.73" lengthAdjust="spacingAndGlyphs">137.60</text>
<text x="491.01" y="161.9" class="lb" textLength="6.73" lengthAdjust="spacingAndGlyphs">140.50</text>
<text x="498.71" y="160.7" class="lb" textLength="6.73" lengthAdjust="spacingAndGlyphs">142.98</text>
<text x="506.42" y="159.2" class="lb" textLength="6.73" lengthAdjust="spacingAndGlyphs">146.07</text>
<text x="514.12" y="157.5" class="lb" textLength="6.73" lengthAdjust="spacingAndGlyphs">149.59</text>
<text x="521.83" y="156" class="lb" textLength="6.73" lengthAdjust="spacingAndGlyphs">152.69</text>
<text x="529.53" y="154.4" class="lb" textLength="6.73" lengthAdjust="spacingAndGlyphs">155.99</text>
<path d="M39.5 226.6V289.3M47.09 226.6V289.3M54.68 226.6V289.3M62.27 226.6V289.3M69.86 226.6V289.3M77.45 226.6V289.3M85.04 226.6V289.3M92.63 226.6V289.3M100.22 226.6V289.3M107.81 226.6V289.3M115.4 226.6V289.3M122.99 226.6V289.3M130.58 226.6V289.3M138.17 226.6V289.3M145.76 226.6V289.3M153.35 226.6V289.3M160.94 226.6V289.3M168.53 226.6V289.3M176.12 226.6V289.3M183.71 226.6V289.3M31.8 285.32H192.6M31.8 276.96H192.6M31.8 268.6H192.6M31.8 260.24H192.6M31.8 251.88H192.6M31.8 243.52H192.6M31.8 235.16H192.6M31.8 226.8H192.6" stroke="#eeeeee" stroke-width="0.5" fill="none"/>
<rect x="31.8" y="226.6" width="160.8" height="62.7" fill="none" stroke="#d4d4d4" stroke-width="0.7"/>
<text x="39.5" y="293.8" class="tk" text-anchor="middle">0</text>
<text x="47.09" y="293.8" class="tk" text-anchor="middle">1</text>
<text x="54.68" y="293.8" class="tk" text-anchor="middle">2</text>
<text x="62.27" y="293.8" class="tk" text-anchor="middle">3</text>
<text x="69.86" y="293.8" class="tk" text-anchor="middle">4</text>
<text x="77.45" y="293.8" class="tk" text-anchor="middle">5</text>
<text x="85.04" y="293.8" class="tk" text-anchor="middle">6</text>
<text x="92.63" y="293.8" class="tk" text-anchor="middle">7</text>
<text x="100.22" y="293.8" class="tk" text-anchor="middle">8</text>
<text x="107.81" y="293.8" class="tk" text-anchor="middle">9</text>
<text x="115.4" y="293.8" class="tk" text-anchor="middle">10</text>
<text x="122.99" y="293.8" class="tk" text-anchor="middle">11</text>
<text x="130.58" y="293.8" class="tk" text-anchor="middle">12</text>
<text x="138.17" y="293.8" class="tk" text-anchor="middle">13</text>
<text x="145.76" y="293.8" class="tk" text-anchor="middle">14</text>
<text x="153.35" y="293.8" class="tk" text-anchor="middle">15</text>
<text x="160.94" y="293.8" class="tk" text-anchor="middle">16</text>
<text x="168.53" y="293.8" class="tk" text-anchor="middle">17</text>
<text x="176.12" y="293.8" class="tk" text-anchor="middle">18</text>
<text x="183.71" y="293.8" class="tk" text-anchor="middle">19</text>
<text x="30.3" y="287.07" class="tk" text-anchor="end">60</text>
<path d="M30.5 285.32H31.8" stroke="#666" stroke-width="0.4"/>
<text x="30.3" y="278.71" class="tk" text-anchor="end">80</text>
<path d="M30.5 276.96H31.8" stroke="#666" stroke-width="0.4"/>
<text x="30.3" y="270.35" class="tk" text-anchor="end">100</text>
<path d="M30.5 268.6H31.8" stroke="#666" stroke-width="0.4"/>
<text x="30.3" y="261.99" class="tk" text-anchor="end">120</text>
<path d="M30.5 260.24H31.8" stroke="#666" stroke-width="0.4"/>
<text x="30.3" y="253.63" class="tk" text-anchor="end">140</text>
<path d="M30.5 251.88H31.8" stroke="#666" stroke-width="0.4"/>
<text x="30.3" y="245.27" class="tk" text-anchor="end">160</text>
<path d="M30.5 243.52H31.8" stroke="#666" stroke-width="0.4"/>
<text x="30.3" y="236.91" class="tk" text-anchor="end">180</text>
<path d="M30.5 235.16H31.8" stroke="#666" stroke-width="0.4"/>
<text x="30.3" y="228.55" class="tk" text-anchor="end">200</text>
<path d="M30.5 226.8H31.8" stroke="#666" stroke-width="0.4"/>
<polyline points="39.5,281.3 47.09,281.3 54.68,281.3 62.27,275.2 69.86,274.4 77.45,273.3 85.04,272.5 92.63,272.1 100.22,271.4 107.81,270.8 115.4,270 122.99,269.2 130.58,268.6 138.17,267.4 145.76,265.8 153.35,265 160.94,264 168.53,263.1 176.12,262 183.71,260.7" fill="none" stroke="#ff9c9c" stroke-width="0.95"/>
<rect x="38.85" y="280.65" width="1.3" height="1.3" fill="#ff4d6a"/>
<rect x="46.44" y="280.65" width="1.3" height="1.3" fill="#ff4d6a"/>
<rect x="54.03" y="280.65" width="1.3" height="1.3" fill="#ff4d6a"/>
<rect x="61.62" y="274.55" width="1.3" height="1.3" fill="#ff4d6a"/>
<rect x="69.21" y="273.75" width="1.3" height="1.3" fill="#ff4d6a"/>
<rect x="76.8" y="272.65" width="1.3" height="1.3" fill="#ff4d6a"/>
<rect x="84.39" y="271.85" width="1.3" height="1.3" fill="#ff4d6a"/>
<rect x="91.98" y="271.45" width="1.3" height="1.3" fill="#ff4d6a"/>
<rect x="99.57" y="270.75" width="1.3" height="1.3" fill="#ff4d6a"/>
<rect x="107.16" y="270.15" width="1.3" height="1.3" fill="#ff4d6a"/>
<rect x="114.75" y="269.35" width="1.3" height="1.3" fill="#ff4d6a"/>
<rect x="122.34" y="268.55" width="1.3" height="1.3" fill="#ff4d6a"/>
<rect x="129.93" y="267.95" width="1.3" height="1.3" fill="#ff4d6a"/>
<rect x="137.52" y="266.75" width="1.3" height="1.3" fill="#ff4d6a"/>
<rect x="145.11" y="265.15" width="1.3" height="1.3" fill="#ff4d6a"/>
<rect x="152.7" y="264.35" width="1.3" height="1.3" fill="#ff4d6a"/>
<rect x="160.29" y="263.35" width="1.3" height="1.3" fill="#ff4d6a"/>
<rect x="167.88" y="262.45" width="1.3" height="1.3" fill="#ff4d6a"/>
<rect x="175.47" y="261.35" width="1.3" height="1.3" fill="#ff4d6a"/>
<rect x="183.06" y="260.05" width="1.3" height="1.3" fill="#ff4d6a"/>
<text x="36.75" y="280.7" class="lb" textLength="5.5" lengthAdjust="spacingAndGlyphs">69.62</text>
<text x="44.34" y="280.7" class="lb" textLength="5.5" lengthAdjust="spacingAndGlyphs">69.62</text>
<text x="51.93" y="280.7" class="lb" textLength="5.5" lengthAdjust="spacingAndGlyphs">69.62</text>
<text x="59.52" y="274.6" class="lb" textLength="5.5" lengthAdjust="spacingAndGlyphs">84.21</text>
<text x="67.11" y="273.8" class="lb" textLength="5.5" lengthAdjust="spacingAndGlyphs">86.12</text>
<text x="74.7" y="272.7" class="lb" textLength="5.5" lengthAdjust="spacingAndGlyphs">88.76</text>
<text x="82.29" y="271.9" class="lb" textLength="5.5" lengthAdjust="spacingAndGlyphs">90.67</text>
<text x="89.88" y="271.5" class="lb" textLength="5.5" lengthAdjust="spacingAndGlyphs">91.63</text>
<text x="97.47" y="270.8" class="lb" textLength="5.5" lengthAdjust="spacingAndGlyphs">93.30</text>
<text x="105.06" y="270.2" class="lb" textLength="5.5" lengthAdjust="spacingAndGlyphs">94.74</text>
<text x="112.65" y="269.4" class="lb" textLength="5.5" lengthAdjust="spacingAndGlyphs">96.65</text>
<text x="120.24" y="268.6" class="lb" textLength="5.5" lengthAdjust="spacingAndGlyphs">98.56</text>
<text x="127.22" y="268" class="lb" textLength="6.73" lengthAdjust="spacingAndGlyphs">100.00</text>
<text x="134.81" y="266.8" class="lb" textLength="6.73" lengthAdjust="spacingAndGlyphs">102.87</text>
<text x="142.4" y="265.2" class="lb" textLength="6.73" lengthAdjust="spacingAndGlyphs">106.70</text>
<text x="149.99" y="264.4" class="lb" textLength="6.73" lengthAdjust="spacingAndGlyphs">108.61</text>
<text x="157.58" y="263.4" class="lb" textLength="6.73" lengthAdjust="spacingAndGlyphs">111.00</text>
<text x="165.17" y="262.5" class="lb" textLength="6.73" lengthAdjust="spacingAndGlyphs">113.16</text>
<text x="172.76" y="261.4" class="lb" textLength="6.73" lengthAdjust="spacingAndGlyphs">115.79</text>
<text x="180.35" y="260.1" class="lb" textLength="6.73" lengthAdjust="spacingAndGlyphs">118.90</text>
<polyline points="39.5,287.5 47.09,287 54.68,287.9 62.27,277.7 69.86,276.9 77.45,275.2 85.04,274.1 92.63,273.8 100.22,273 107.81,272.2 115.4,271.4 122.99,270.6 130.58,269.7 138.17,268.5 145.76,267.2 153.35,266.4 160.94,265.3 168.53,264.2 176.12,263.1 183.71,262" fill="none" stroke="#a4a4ff" stroke-width="0.85" stroke-dasharray="2.8 0.6"/>
<rect x="38.85" y="286.85" width="1.3" height="1.3" fill="#5e5ef2"/>
<rect x="46.44" y="286.35" width="1.3" height="1.3" fill="#5e5ef2"/>
<rect x="54.03" y="287.25" width="1.3" height="1.3" fill="#5e5ef2"/>
<rect x="61.62" y="277.05" width="1.3" height="1.3" fill="#5e5ef2"/>
<rect x="69.21" y="276.25" width="1.3" height="1.3" fill="#5e5ef2"/>
<rect x="76.8" y="274.55" width="1.3" height="1.3" fill="#5e5ef2"/>
<rect x="84.39" y="273.45" width="1.3" height="1.3" fill="#5e5ef2"/>
<rect x="91.98" y="273.15" width="1.3" height="1.3" fill="#5e5ef2"/>
<rect x="99.57" y="272.35" width="1.3" height="1.3" fill="#5e5ef2"/>
<rect x="107.16" y="271.55" width="1.3" height="1.3" fill="#5e5ef2"/>
<rect x="114.75" y="270.75" width="1.3" height="1.3" fill="#5e5ef2"/>
<rect x="122.34" y="269.95" width="1.3" height="1.3" fill="#5e5ef2"/>
<rect x="129.93" y="269.05" width="1.3" height="1.3" fill="#5e5ef2"/>
<rect x="137.52" y="267.85" width="1.3" height="1.3" fill="#5e5ef2"/>
<rect x="145.11" y="266.55" width="1.3" height="1.3" fill="#5e5ef2"/>
<rect x="152.7" y="265.75" width="1.3" height="1.3" fill="#5e5ef2"/>
<rect x="160.29" y="264.65" width="1.3" height="1.3" fill="#5e5ef2"/>
<rect x="167.88" y="263.55" width="1.3" height="1.3" fill="#5e5ef2"/>
<rect x="175.47" y="262.45" width="1.3" height="1.3" fill="#5e5ef2"/>
<rect x="183.06" y="261.35" width="1.3" height="1.3" fill="#5e5ef2"/>
<text x="36.75" y="289.6" class="lb" textLength="5.5" lengthAdjust="spacingAndGlyphs">54.78</text>
<text x="44.34" y="289.1" class="lb" textLength="5.5" lengthAdjust="spacingAndGlyphs">55.98</text>
<text x="51.93" y="290" class="lb" textLength="5.5" lengthAdjust="spacingAndGlyphs">53.83</text>
<text x="59.52" y="279.8" class="lb" textLength="5.5" lengthAdjust="spacingAndGlyphs">78.23</text>
<text x="67.11" y="279" class="lb" textLength="5.5" lengthAdjust="spacingAndGlyphs">80.14</text>
<text x="74.7" y="277.3" class="lb" textLength="5.5" lengthAdjust="spacingAndGlyphs">84.21</text>
<text x="82.29" y="276.2" class="lb" textLength="5.5" lengthAdjust="spacingAndGlyphs">86.84</text>
<text x="89.88" y="275.9" class="lb" textLength="5.5" lengthAdjust="spacingAndGlyphs">87.56</text>
<text x="97.47" y="275.1" class="lb" textLength="5.5" lengthAdjust="spacingAndGlyphs">89.47</text>
<text x="105.06" y="274.3" class="lb" textLength="5.5" lengthAdjust="spacingAndGlyphs">91.39</text>
<text x="112.65" y="273.5" class="lb" textLength="5.5" lengthAdjust="spacingAndGlyphs">93.30</text>
<text x="120.24" y="272.7" class="lb" textLength="5.5" lengthAdjust="spacingAndGlyphs">95.22</text>
<text x="127.83" y="271.8" class="lb" textLength="5.5" lengthAdjust="spacingAndGlyphs">97.37</text>
<text x="134.81" y="270.6" class="lb" textLength="6.73" lengthAdjust="spacingAndGlyphs">100.24</text>
<text x="142.4" y="269.3" class="lb" textLength="6.73" lengthAdjust="spacingAndGlyphs">103.35</text>
<text x="149.99" y="268.5" class="lb" textLength="6.73" lengthAdjust="spacingAndGlyphs">105.26</text>
<text x="157.58" y="267.4" class="lb" textLength="6.73" lengthAdjust="spacingAndGlyphs">107.89</text>
<text x="165.17" y="266.3" class="lb" textLength="6.73" lengthAdjust="spacingAndGlyphs">110.53</text>
<text x="172.76" y="265.2" class="lb" textLength="6.73" lengthAdjust="spacingAndGlyphs">113.16</text>
<text x="180.35" y="264.1" class="lb" textLength="6.73" lengthAdjust="spacingAndGlyphs">115.79</text>
<polyline points="39.5,276.4 47.09,280.2 54.68,279.3 62.27,256.4 69.86,254.4 77.45,253 85.04,251.8 92.63,250.2 100.22,248.5 107.81,247.1 115.4,245.3 122.99,244.2 130.58,242.5 138.17,240.8 145.76,239.2 153.35,237.5 160.94,235.9 168.53,234.3 176.12,232.6 183.71,230.5" fill="none" stroke="#b2dcb2" stroke-width="0.8" stroke-dasharray="0.9 0.5"/>
<rect x="38.85" y="275.75" width="1.3" height="1.3" fill="#67a867"/>
<rect x="46.44" y="279.55" width="1.3" height="1.3" fill="#67a867"/>
<rect x="54.03" y="278.65" width="1.3" height="1.3" fill="#67a867"/>
<rect x="61.62" y="255.75" width="1.3" height="1.3" fill="#67a867"/>
<rect x="69.21" y="253.75" width="1.3" height="1.3" fill="#67a867"/>
<rect x="76.8" y="252.35" width="1.3" height="1.3" fill="#67a867"/>
<rect x="84.39" y="251.15" width="1.3" height="1.3" fill="#67a867"/>
<rect x="91.98" y="249.55" width="1.3" height="1.3" fill="#67a867"/>
<rect x="99.57" y="247.85" width="1.3" height="1.3" fill="#67a867"/>
<rect x="107.16" y="246.45" width="1.3" height="1.3" fill="#67a867"/>
<rect x="114.75" y="244.65" width="1.3" height="1.3" fill="#67a867"/>
<rect x="122.34" y="243.55" width="1.3" height="1.3" fill="#67a867"/>
<rect x="129.93" y="241.85" width="1.3" height="1.3" fill="#67a867"/>
<rect x="137.52" y="240.15" width="1.3" height="1.3" fill="#67a867"/>
<rect x="145.11" y="238.55" width="1.3" height="1.3" fill="#67a867"/>
<rect x="152.7" y="236.85" width="1.3" height="1.3" fill="#67a867"/>
<rect x="160.29" y="235.25" width="1.3" height="1.3" fill="#67a867"/>
<rect x="167.88" y="233.65" width="1.3" height="1.3" fill="#67a867"/>
<rect x="175.47" y="231.95" width="1.3" height="1.3" fill="#67a867"/>
<rect x="183.06" y="229.85" width="1.3" height="1.3" fill="#67a867"/>
<text x="36.75" y="275.8" class="lb" textLength="5.5" lengthAdjust="spacingAndGlyphs">81.34</text>
<text x="44.34" y="279.6" class="lb" textLength="5.5" lengthAdjust="spacingAndGlyphs">72.25</text>
<text x="51.93" y="278.7" class="lb" textLength="5.5" lengthAdjust="spacingAndGlyphs">74.40</text>
<text x="58.91" y="255.8" class="lb" textLength="6.73" lengthAdjust="spacingAndGlyphs">129.19</text>
<text x="66.5" y="253.8" class="lb" textLength="6.73" lengthAdjust="spacingAndGlyphs">133.97</text>
<text x="74.09" y="252.4" class="lb" textLength="6.73" lengthAdjust="spacingAndGlyphs">137.32</text>
<text x="81.68" y="251.2" class="lb" textLength="6.73" lengthAdjust="spacingAndGlyphs">140.19</text>
<text x="89.27" y="249.6" class="lb" textLength="6.73" lengthAdjust="spacingAndGlyphs">144.02</text>
<text x="96.86" y="247.9" class="lb" textLength="6.73" lengthAdjust="spacingAndGlyphs">148.09</text>
<text x="104.45" y="246.5" class="lb" textLength="6.73" lengthAdjust="spacingAndGlyphs">151.44</text>
<text x="112.04" y="244.7" class="lb" textLength="6.73" lengthAdjust="spacingAndGlyphs">155.74</text>
<text x="119.63" y="243.6" class="lb" textLength="6.73" lengthAdjust="spacingAndGlyphs">158.37</text>
<text x="127.22" y="241.9" class="lb" textLength="6.73" lengthAdjust="spacingAndGlyphs">162.44</text>
<text x="134.81" y="240.2" class="lb" textLength="6.73" lengthAdjust="spacingAndGlyphs">166.51</text>
<text x="142.4" y="238.6" class="lb" textLength="6.73" lengthAdjust="spacingAndGlyphs">170.33</text>
<text x="149.99" y="236.9" class="lb" textLength="6.73" lengthAdjust="spacingAndGlyphs">174.40</text>
<text x="157.58" y="235.3" class="lb" textLength="6.73" lengthAdjust="spacingAndGlyphs">178.23</text>
<text x="165.17" y="233.7" class="lb" textLength="6.73" lengthAdjust="spacingAndGlyphs">182.06</text>
<text x="172.76" y="232" class="lb" textLength="6.73" lengthAdjust="spacingAndGlyphs">186.12</text>
<text x="180.35" y="229.9" class="lb" textLength="6.73" lengthAdjust="spacingAndGlyphs">191.15</text>
<path d="M212.3 226.6V290.4M220.17 226.6V290.4M228.04 226.6V290.4M235.91 226.6V290.4M243.78 226.6V290.4M251.65 226.6V290.4M259.52 226.6V290.4M267.39 226.6V290.4M275.26 226.6V290.4M283.13 226.6V290.4M291 226.6V290.4M298.87 226.6V290.4M306.74 226.6V290.4M314.61 226.6V290.4M322.48 226.6V290.4M330.35 226.6V290.4M338.22 226.6V290.4M346.09 226.6V290.4M353.96 226.6V290.4M361.83 226.6V290.4M205.6 286.6H369.1M205.6 278.03H369.1M205.6 269.46H369.1M205.6 260.89H369.1M205.6 252.32H369.1M205.6 243.74H369.1M205.6 235.17H369.1M205.6 226.6H369.1" stroke="#eeeeee" stroke-width="0.5" fill="none"/>
<rect x="205.6" y="226.6" width="163.5" height="63.8" fill="none" stroke="#d4d4d4" stroke-width="0.7"/>
<text x="212.3" y="294.9" class="tk" text-anchor="middle">0</text>
<text x="220.17" y="294.9" class="tk" text-anchor="middle">1</text>
<text x="228.04" y="294.9" class="tk" text-anchor="middle">2</text>
<text x="235.91" y="294.9" class="tk" text-anchor="middle">3</text>
<text x="243.78" y="294.9" class="tk" text-anchor="middle">4</text>
<text x="251.65" y="294.9" class="tk" text-anchor="middle">5</text>
<text x="259.52" y="294.9" class="tk" text-anchor="middle">6</text>
<text x="267.39" y="294.9" class="tk" text-anchor="middle">7</text>
<text x="275.26" y="294.9" class="tk" text-anchor="middle">8</text>
<text x="283.13" y="294.9" class="tk" text-anchor="middle">9</text>
<text x="291" y="294.9" class="tk" text-anchor="middle">10</text>
<text x="298.87" y="294.9" class="tk" text-anchor="middle">11</text>
<text x="306.74" y="294.9" class="tk" text-anchor="middle">12</text>
<text x="314.61" y="294.9" class="tk" text-anchor="middle">13</text>
<text x="322.48" y="294.9" class="tk" text-anchor="middle">14</text>
<text x="330.35" y="294.9" class="tk" text-anchor="middle">15</text>
<text x="338.22" y="294.9" class="tk" text-anchor="middle">16</text>
<text x="346.09" y="294.9" class="tk" text-anchor="middle">17</text>
<text x="353.96" y="294.9" class="tk" text-anchor="middle">18</text>
<text x="361.83" y="294.9" class="tk" text-anchor="middle">19</text>
<text x="204.1" y="288.35" class="tk" text-anchor="end">60</text>
<path d="M204.3 286.6H205.6" stroke="#666" stroke-width="0.4"/>
<text x="204.1" y="279.78" class="tk" text-anchor="end">80</text>
<path d="M204.3 278.03H205.6" stroke="#666" stroke-width="0.4"/>
<text x="204.1" y="271.21" class="tk" text-anchor="end">100</text>
<path d="M204.3 269.46H205.6" stroke="#666" stroke-width="0.4"/>
<text x="204.1" y="262.64" class="tk" text-anchor="end">120</text>
<path d="M204.3 260.89H205.6" stroke="#666" stroke-width="0.4"/>
<text x="204.1" y="254.07" class="tk" text-anchor="end">140</text>
<path d="M204.3 252.32H205.6" stroke="#666" stroke-width="0.4"/>
<text x="204.1" y="245.49" class="tk" text-anchor="end">160</text>
<path d="M204.3 243.74H205.6" stroke="#666" stroke-width="0.4"/>
<text x="204.1" y="236.92" class="tk" text-anchor="end">180</text>
<path d="M204.3 235.17H205.6" stroke="#666" stroke-width="0.4"/>
<text x="204.1" y="228.35" class="tk" text-anchor="end">200</text>
<path d="M204.3 226.6H205.6" stroke="#666" stroke-width="0.4"/>
<polyline points="212.3,275 220.17,272.1 228.04,271.5 235.91,271.2 243.78,270.4 251.65,271 259.52,270 267.39,269.8 275.26,269.3 283.13,269 291,268.6 298.87,267.9 306.74,267.3 314.61,266.8 322.48,266 330.35,265.1 338.22,264.3 346.09,263.5 353.96,262.7 361.83,261.6" fill="none" stroke="#ff9c9c" stroke-width="0.95"/>
<rect x="211.65" y="274.35" width="1.3" height="1.3" fill="#ff4d6a"/>
<rect x="219.52" y="271.45" width="1.3" height="1.3" fill="#ff4d6a"/>
<rect x="227.39" y="270.85" width="1.3" height="1.3" fill="#ff4d6a"/>
<rect x="235.26" y="270.55" width="1.3" height="1.3" fill="#ff4d6a"/>
<rect x="243.13" y="269.75" width="1.3" height="1.3" fill="#ff4d6a"/>
<rect x="251" y="270.35" width="1.3" height="1.3" fill="#ff4d6a"/>
<rect x="258.87" y="269.35" width="1.3" height="1.3" fill="#ff4d6a"/>
<rect x="266.74" y="269.15" width="1.3" height="1.3" fill="#ff4d6a"/>
<rect x="274.61" y="268.65" width="1.3" height="1.3" fill="#ff4d6a"/>
<rect x="282.48" y="268.35" width="1.3" height="1.3" fill="#ff4d6a"/>
<rect x="290.35" y="267.95" width="1.3" height="1.3" fill="#ff4d6a"/>
<rect x="298.22" y="267.25" width="1.3" height="1.3" fill="#ff4d6a"/>
<rect x="306.09" y="266.65" width="1.3" height="1.3" fill="#ff4d6a"/>
<rect x="313.96" y="266.15" width="1.3" height="1.3" fill="#ff4d6a"/>
<rect x="321.83" y="265.35" width="1.3" height="1.3" fill="#ff4d6a"/>
<rect x="329.7" y="264.45" width="1.3" height="1.3" fill="#ff4d6a"/>
<rect x="337.57" y="263.65" width="1.3" height="1.3" fill="#ff4d6a"/>
<rect x="345.44" y="262.85" width="1.3" height="1.3" fill="#ff4d6a"/>
<rect x="353.31" y="262.05" width="1.3" height="1.3" fill="#ff4d6a"/>
<rect x="361.18" y="260.95" width="1.3" height="1.3" fill="#ff4d6a"/>
<text x="209.55" y="274.4" class="lb" textLength="5.5" lengthAdjust="spacingAndGlyphs">87.07</text>
<text x="217.42" y="271.5" class="lb" textLength="5.5" lengthAdjust="spacingAndGlyphs">93.84</text>
<text x="225.29" y="270.9" class="lb" textLength="5.5" lengthAdjust="spacingAndGlyphs">95.24</text>
<text x="233.16" y="270.6" class="lb" textLength="5.5" lengthAdjust="spacingAndGlyphs">95.94</text>
<text x="241.03" y="269.8" class="lb" textLength="5.5" lengthAdjust="spacingAndGlyphs">97.81</text>
<text x="248.9" y="270.4" class="lb" textLength="5.5" lengthAdjust="spacingAndGlyphs">96.41</text>
<text x="256.77" y="269.4" class="lb" textLength="5.5" lengthAdjust="spacingAndGlyphs">98.74</text>
<text x="264.64" y="269.2" class="lb" textLength="5.5" lengthAdjust="spacingAndGlyphs">99.21</text>
<text x="271.9" y="268.7" class="lb" textLength="6.73" lengthAdjust="spacingAndGlyphs">100.37</text>
<text x="279.77" y="268.4" class="lb" textLength="6.73" lengthAdjust="spacingAndGlyphs">101.07</text>
<text x="287.64" y="268" class="lb" textLength="6.73" lengthAdjust="spacingAndGlyphs">102.01</text>
<text x="295.51" y="267.3" class="lb" textLength="6.73" lengthAdjust="spacingAndGlyphs">103.64</text>
<text x="303.38" y="266.7" class="lb" textLength="6.73" lengthAdjust="spacingAndGlyphs">105.04</text>
<text x="311.25" y="266.2" class="lb" textLength="6.73" lengthAdjust="spacingAndGlyphs">106.21</text>
<text x="319.12" y="265.4" class="lb" textLength="6.73" lengthAdjust="spacingAndGlyphs">108.07</text>
<text x="326.99" y="264.5" class="lb" textLength="6.73" lengthAdjust="spacingAndGlyphs">110.17</text>
<text x="334.86" y="263.7" class="lb" textLength="6.73" lengthAdjust="spacingAndGlyphs">112.04</text>
<text x="342.73" y="262.9" class="lb" textLength="6.73" lengthAdjust="spacingAndGlyphs">113.91</text>
<text x="350.6" y="262.1" class="lb" textLength="6.73" lengthAdjust="spacingAndGlyphs">115.77</text>
<text x="358.47" y="261" class="lb" textLength="6.73" lengthAdjust="spacingAndGlyphs">118.34</text>
<polyline points="212.3,279.6 220.17,276.5 228.04,276.8 235.91,273.2 243.78,272.1 251.65,274 259.52,273.9 267.39,273.7 275.26,273.6 283.13,273.5 291,273.3 298.87,272.7 306.74,272.4 314.61,272.2 322.48,271.7 330.35,271.2 338.22,270.6 346.09,270 353.96,269.2 361.83,268.4" fill="none" stroke="#a4a4ff" stroke-width="0.85" stroke-dasharray="2.8 0.6"/>
<rect x="211.65" y="278.95" width="1.3" height="1.3" fill="#5e5ef2"/>
<rect x="219.52" y="275.85" width="1.3" height="1.3" fill="#5e5ef2"/>
<rect x="227.39" y="276.15" width="1.3" height="1.3" fill="#5e5ef2"/>
<rect x="235.26" y="272.55" width="1.3" height="1.3" fill="#5e5ef2"/>
<rect x="243.13" y="271.45" width="1.3" height="1.3" fill="#5e5ef2"/>
<rect x="251" y="273.35" width="1.3" height="1.3" fill="#5e5ef2"/>
<rect x="258.87" y="273.25" width="1.3" height="1.3" fill="#5e5ef2"/>
<rect x="266.74" y="273.05" width="1.3" height="1.3" fill="#5e5ef2"/>
<rect x="274.61" y="272.95" width="1.3" height="1.3" fill="#5e5ef2"/>
<rect x="282.48" y="272.85" width="1.3" height="1.3" fill="#5e5ef2"/>
<rect x="290.35" y="272.65" width="1.3" height="1.3" fill="#5e5ef2"/>
<rect x="298.22" y="272.05" width="1.3" height="1.3" fill="#5e5ef2"/>
<rect x="306.09" y="271.75" width="1.3" height="1.3" fill="#5e5ef2"/>
<rect x="313.96" y="271.55" width="1.3" height="1.3" fill="#5e5ef2"/>
<rect x="321.83" y="271.05" width="1.3" height="1.3" fill="#5e5ef2"/>
<rect x="329.7" y="270.55" width="1.3" height="1.3" fill="#5e5ef2"/>
<rect x="337.57" y="269.95" width="1.3" height="1.3" fill="#5e5ef2"/>
<rect x="345.44" y="269.35" width="1.3" height="1.3" fill="#5e5ef2"/>
<rect x="353.31" y="268.55" width="1.3" height="1.3" fill="#5e5ef2"/>
<rect x="361.18" y="267.75" width="1.3" height="1.3" fill="#5e5ef2"/>
<text x="209.55" y="281.7" class="lb" textLength="5.5" lengthAdjust="spacingAndGlyphs">76.34</text>
<text x="217.42" y="278.6" class="lb" textLength="5.5" lengthAdjust="spacingAndGlyphs">83.57</text>
<text x="225.29" y="278.9" class="lb" textLength="5.5" lengthAdjust="spacingAndGlyphs">82.87</text>
<text x="233.16" y="275.3" class="lb" textLength="5.5" lengthAdjust="spacingAndGlyphs">91.27</text>
<text x="241.03" y="274.2" class="lb" textLength="5.5" lengthAdjust="spacingAndGlyphs">93.84</text>
<text x="248.9" y="276.1" class="lb" textLength="5.5" lengthAdjust="spacingAndGlyphs">89.41</text>
<text x="256.77" y="276" class="lb" textLength="5.5" lengthAdjust="spacingAndGlyphs">89.64</text>
<text x="264.64" y="275.8" class="lb" textLength="5.5" lengthAdjust="spacingAndGlyphs">90.11</text>
<text x="272.51" y="275.7" class="lb" textLength="5.5" lengthAdjust="spacingAndGlyphs">90.34</text>
<text x="280.38" y="275.6" class="lb" textLength="5.5" lengthAdjust="spacingAndGlyphs">90.57</text>
<text x="288.25" y="275.4" class="lb" textLength="5.5" lengthAdjust="spacingAndGlyphs">91.04</text>
<text x="296.12" y="274.8" class="lb" textLength="5.5" lengthAdjust="spacingAndGlyphs">92.44</text>
<text x="303.99" y="274.5" class="lb" textLength="5.5" lengthAdjust="spacingAndGlyphs">93.14</text>
<text x="311.86" y="274.3" class="lb" textLength="5.5" lengthAdjust="spacingAndGlyphs">93.61</text>
<text x="319.73" y="273.8" class="lb" textLength="5.5" lengthAdjust="spacingAndGlyphs">94.77</text>
<text x="327.6" y="273.3" class="lb" textLength="5.5" lengthAdjust="spacingAndGlyphs">95.94</text>
<text x="335.47" y="272.7" class="lb" textLength="5.5" lengthAdjust="spacingAndGlyphs">97.34</text>
<text x="343.34" y="272.1" class="lb" textLength="5.5" lengthAdjust="spacingAndGlyphs">98.74</text>
<text x="350.6" y="271.3" class="lb" textLength="6.73" lengthAdjust="spacingAndGlyphs">100.61</text>
<text x="358.47" y="270.5" class="lb" textLength="6.73" lengthAdjust="spacingAndGlyphs">102.47</text>
<polyline points="212.3,259.4 220.17,270.6 228.04,271 235.91,263 243.78,261 251.65,259.6 259.52,258.1 267.39,257.4 275.26,256.3 283.13,254.9 291,253.9 298.87,252.7 306.74,251 314.61,249.7 322.48,248.2 330.35,246.9 338.22,245.5 346.09,244.2 353.96,242.6 361.83,241.4" fill="none" stroke="#b2dcb2" stroke-width="0.8" stroke-dasharray="0.9 0.5"/>
<rect x="211.65" y="258.75" width="1.3" height="1.3" fill="#67a867"/>
<rect x="219.52" y="269.95" width="1.3" height="1.3" fill="#67a867"/>
<rect x="227.39" y="270.35" width="1.3" height="1.3" fill="#67a867"/>
<rect x="235.26" y="262.35" width="1.3" height="1.3" fill="#67a867"/>
<rect x="243.13" y="260.35" width="1.3" height="1.3" fill="#67a867"/>
<rect x="251" y="258.95" width="1.3" height="1.3" fill="#67a867"/>
<rect x="258.87" y="257.45" width="1.3" height="1.3" fill="#67a867"/>
<rect x="266.74" y="256.75" width="1.3" height="1.3" fill="#67a867"/>
<rect x="274.61" y="255.65" width="1.3" height="1.3" fill="#67a867"/>
<rect x="282.48" y="254.25" width="1.3" height="1.3" fill="#67a867"/>
<rect x="290.35" y="253.25" width="1.3" height="1.3" fill="#67a867"/>
<rect x="298.22" y="252.05" width="1.3" height="1.3" fill="#67a867"/>
<rect x="306.09" y="250.35" width="1.3" height="1.3" fill="#67a867"/>
<rect x="313.96" y="249.05" width="1.3" height="1.3" fill="#67a867"/>
<rect x="321.83" y="247.55" width="1.3" height="1.3" fill="#67a867"/>
<rect x="329.7" y="246.25" width="1.3" height="1.3" fill="#67a867"/>
<rect x="337.57" y="244.85" width="1.3" height="1.3" fill="#67a867"/>
<rect x="345.44" y="243.55" width="1.3" height="1.3" fill="#67a867"/>
<rect x="353.31" y="241.95" width="1.3" height="1.3" fill="#67a867"/>
<rect x="361.18" y="240.75" width="1.3" height="1.3" fill="#67a867"/>
<text x="208.94" y="258.8" class="lb" textLength="6.73" lengthAdjust="spacingAndGlyphs">123.47</text>
<text x="217.42" y="270" class="lb" textLength="5.5" lengthAdjust="spacingAndGlyphs">97.34</text>
<text x="225.29" y="270.4" class="lb" textLength="5.5" lengthAdjust="spacingAndGlyphs">96.41</text>
<text x="232.55" y="262.4" class="lb" textLength="6.73" lengthAdjust="spacingAndGlyphs">115.07</text>
<text x="240.42" y="260.4" class="lb" textLength="6.73" lengthAdjust="spacingAndGlyphs">119.74</text>
<text x="248.29" y="259" class="lb" textLength="6.73" lengthAdjust="spacingAndGlyphs">123.01</text>
<text x="256.16" y="257.5" class="lb" textLength="6.73" lengthAdjust="spacingAndGlyphs">126.50</text>
<text x="264.03" y="256.8" class="lb" textLength="6.73" lengthAdjust="spacingAndGlyphs">128.14</text>
<text x="271.9" y="255.7" class="lb" textLength="6.73" lengthAdjust="spacingAndGlyphs">130.70</text>
<text x="279.77" y="254.3" class="lb" textLength="6.73" lengthAdjust="spacingAndGlyphs">133.97</text>
<text x="287.64" y="253.3" class="lb" textLength="6.73" lengthAdjust="spacingAndGlyphs">136.30</text>
<text x="295.51" y="252.1" class="lb" textLength="6.73" lengthAdjust="spacingAndGlyphs">139.10</text>
<text x="303.38" y="250.4" class="lb" textLength="6.73" lengthAdjust="spacingAndGlyphs">143.07</text>
<text x="311.25" y="249.1" class="lb" textLength="6.73" lengthAdjust="spacingAndGlyphs">146.10</text>
<text x="319.12" y="247.6" class="lb" textLength="6.73" lengthAdjust="spacingAndGlyphs">149.60</text>
<text x="326.99" y="246.3" class="lb" textLength="6.73" lengthAdjust="spacingAndGlyphs">152.64</text>
<text x="334.86" y="244.9" class="lb" textLength="6.73" lengthAdjust="spacingAndGlyphs">155.90</text>
<text x="342.73" y="243.6" class="lb" textLength="6.73" lengthAdjust="spacingAndGlyphs">158.94</text>
<text x="350.6" y="242" class="lb" textLength="6.73" lengthAdjust="spacingAndGlyphs">162.67</text>
<text x="358.47" y="240.8" class="lb" textLength="6.73" lengthAdjust="spacingAndGlyphs">165.47</text>
<path d="M387.8 226.6V289.1M395.5 226.6V289.1M403.2 226.6V289.1M410.9 226.6V289.1M418.6 226.6V289.1M426.3 226.6V289.1M434 226.6V289.1M441.7 226.6V289.1M449.4 226.6V289.1M457.1 226.6V289.1M464.8 226.6V289.1M472.5 226.6V289.1M480.2 226.6V289.1M487.9 226.6V289.1M495.6 226.6V289.1M503.3 226.6V289.1M511 226.6V289.1M518.7 226.6V289.1M526.4 226.6V289.1M534.1 226.6V289.1M381.1 286H541M381.1 277.52H541M381.1 269.03H541M381.1 260.54H541M381.1 252.06H541M381.1 243.57H541M381.1 235.09H541M381.1 226.6H541" stroke="#eeeeee" stroke-width="0.5" fill="none"/>
<rect x="381.1" y="226.6" width="159.9" height="62.5" fill="none" stroke="#d4d4d4" stroke-width="0.7"/>
<text x="387.8" y="293.6" class="tk" text-anchor="middle">0</text>
<text x="395.5" y="293.6" class="tk" text-anchor="middle">1</text>
<text x="403.2" y="293.6" class="tk" text-anchor="middle">2</text>
<text x="410.9" y="293.6" class="tk" text-anchor="middle">3</text>
<text x="418.6" y="293.6" class="tk" text-anchor="middle">4</text>
<text x="426.3" y="293.6" class="tk" text-anchor="middle">5</text>
<text x="434" y="293.6" class="tk" text-anchor="middle">6</text>
<text x="441.7" y="293.6" class="tk" text-anchor="middle">7</text>
<text x="449.4" y="293.6" class="tk" text-anchor="middle">8</text>
<text x="457.1" y="293.6" class="tk" text-anchor="middle">9</text>
<text x="464.8" y="293.6" class="tk" text-anchor="middle">10</text>
<text x="472.5" y="293.6" class="tk" text-anchor="middle">11</text>
<text x="480.2" y="293.6" class="tk" text-anchor="middle">12</text>
<text x="487.9" y="293.6" class="tk" text-anchor="middle">13</text>
<text x="495.6" y="293.6" class="tk" text-anchor="middle">14</text>
<text x="503.3" y="293.6" class="tk" text-anchor="middle">15</text>
<text x="511" y="293.6" class="tk" text-anchor="middle">16</text>
<text x="518.7" y="293.6" class="tk" text-anchor="middle">17</text>
<text x="526.4" y="293.6" class="tk" text-anchor="middle">18</text>
<text x="534.1" y="293.6" class="tk" text-anchor="middle">19</text>
<text x="379.6" y="287.75" class="tk" text-anchor="end">60</text>
<path d="M379.8 286H381.1" stroke="#666" stroke-width="0.4"/>
<text x="379.6" y="279.27" class="tk" text-anchor="end">80</text>
<path d="M379.8 277.52H381.1" stroke="#666" stroke-width="0.4"/>
<text x="379.6" y="270.78" class="tk" text-anchor="end">100</text>
<path d="M379.8 269.03H381.1" stroke="#666" stroke-width="0.4"/>
<text x="379.6" y="262.29" class="tk" text-anchor="end">120</text>
<path d="M379.8 260.54H381.1" stroke="#666" stroke-width="0.4"/>
<text x="379.6" y="253.81" class="tk" text-anchor="end">140</text>
<path d="M379.8 252.06H381.1" stroke="#666" stroke-width="0.4"/>
<text x="379.6" y="245.32" class="tk" text-anchor="end">160</text>
<path d="M379.8 243.57H381.1" stroke="#666" stroke-width="0.4"/>
<text x="379.6" y="236.84" class="tk" text-anchor="end">180</text>
<path d="M379.8 235.09H381.1" stroke="#666" stroke-width="0.4"/>
<text x="379.6" y="228.35" class="tk" text-anchor="end">200</text>
<path d="M379.8 226.6H381.1" stroke="#666" stroke-width="0.4"/>
<polyline points="387.8,266.8 395.5,264.6 403.2,263.2 410.9,261.8 418.6,260.9 426.3,266.1 434,266.5 441.7,266.8 449.4,267.1 457.1,267.1 464.8,267.1 472.5,267.1 480.2,267.1 487.9,267.1 495.6,266.8 503.3,266.5 511,266.2 518.7,265.87 526.4,265.53 534.1,265.2" fill="none" stroke="#ff9c9c" stroke-width="0.95"/>
<rect x="387.15" y="266.15" width="1.3" height="1.3" fill="#ff4d6a"/>
<rect x="394.85" y="263.95" width="1.3" height="1.3" fill="#ff4d6a"/>
<rect x="402.55" y="262.55" width="1.3" height="1.3" fill="#ff4d6a"/>
<rect x="410.25" y="261.15" width="1.3" height="1.3" fill="#ff4d6a"/>
<rect x="417.95" y="260.25" width="1.3" height="1.3" fill="#ff4d6a"/>
<rect x="425.65" y="265.45" width="1.3" height="1.3" fill="#ff4d6a"/>
<rect x="433.35" y="265.85" width="1.3" height="1.3" fill="#ff4d6a"/>
<rect x="441.05" y="266.15" width="1.3" height="1.3" fill="#ff4d6a"/>
<rect x="448.75" y="266.45" width="1.3" height="1.3" fill="#ff4d6a"/>
<rect x="456.45" y="266.45" width="1.3" height="1.3" fill="#ff4d6a"/>
<rect x="464.15" y="266.45" width="1.3" height="1.3" fill="#ff4d6a"/>
<rect x="471.85" y="266.45" width="1.3" height="1.3" fill="#ff4d6a"/>
<rect x="479.55" y="266.45" width="1.3" height="1.3" fill="#ff4d6a"/>
<rect x="487.25" y="266.45" width="1.3" height="1.3" fill="#ff4d6a"/>
<rect x="494.95" y="266.15" width="1.3" height="1.3" fill="#ff4d6a"/>
<rect x="502.65" y="265.85" width="1.3" height="1.3" fill="#ff4d6a"/>
<rect x="510.35" y="265.55" width="1.3" height="1.3" fill="#ff4d6a"/>
<rect x="518.05" y="265.22" width="1.3" height="1.3" fill="#ff4d6a"/>
<rect x="525.75" y="264.88" width="1.3" height="1.3" fill="#ff4d6a"/>
<rect x="533.45" y="264.55" width="1.3" height="1.3" fill="#ff4d6a"/>
<text x="384.44" y="266.2" class="lb" textLength="6.73" lengthAdjust="spacingAndGlyphs">105.26</text>
<text x="392.14" y="264" class="lb" textLength="6.73" lengthAdjust="spacingAndGlyphs">110.44</text>
<text x="399.84" y="262.6" class="lb" textLength="6.73" lengthAdjust="spacingAndGlyphs">113.74</text>
<text x="407.54" y="261.2" class="lb" textLength="6.73" lengthAdjust="spacingAndGlyphs">117.04</text>
<text x="415.24" y="260.3" class="lb" textLength="6.73" lengthAdjust="spacingAndGlyphs">119.16</text>
<text x="422.94" y="265.5" class="lb" textLength="6.73" lengthAdjust="spacingAndGlyphs">106.91</text>
<text x="430.64" y="265.9" class="lb" textLength="6.73" lengthAdjust="spacingAndGlyphs">105.96</text>
<text x="438.34" y="266.2" class="lb" textLength="6.73" lengthAdjust="spacingAndGlyphs">105.26</text>
<text x="446.04" y="266.5" class="lb" textLength="6.73" lengthAdjust="spacingAndGlyphs">104.55</text>
<text x="453.74" y="266.5" class="lb" textLength="6.73" lengthAdjust="spacingAndGlyphs">104.55</text>
<text x="461.44" y="266.5" class="lb" textLength="6.73" lengthAdjust="spacingAndGlyphs">104.55</text>
<text x="469.14" y="266.5" class="lb" textLength="6.73" lengthAdjust="spacingAndGlyphs">104.55</text>
<text x="476.84" y="266.5" class="lb" textLength="6.73" lengthAdjust="spacingAndGlyphs">104.55</text>
<text x="484.54" y="266.5" class="lb" textLength="6.73" lengthAdjust="spacingAndGlyphs">104.55</text>
<text x="492.24" y="266.2" class="lb" textLength="6.73" lengthAdjust="spacingAndGlyphs">105.26</text>
<text x="499.94" y="265.9" class="lb" textLength="6.73" lengthAdjust="spacingAndGlyphs">105.96</text>
<text x="507.64" y="265.6" class="lb" textLength="6.73" lengthAdjust="spacingAndGlyphs">106.67</text>
<text x="515.34" y="265.27" class="lb" textLength="6.73" lengthAdjust="spacingAndGlyphs">107.46</text>
<text x="523.04" y="264.93" class="lb" textLength="6.73" lengthAdjust="spacingAndGlyphs">108.24</text>
<text x="530.74" y="264.6" class="lb" textLength="6.73" lengthAdjust="spacingAndGlyphs">109.03</text>
<polyline points="387.8,270.9 395.5,268.8 403.2,267.3 410.9,265.6 418.6,264.7 426.3,270.3 434,271.6 441.7,272.4 449.4,272.7 457.1,273.4 464.8,273.8 472.5,274 480.2,274.3 487.9,274.28 495.6,274.27 503.3,274.25 511,274.23 518.7,274.22 526.4,274.2 534.1,273.9" fill="none" stroke="#a4a4ff" stroke-width="0.85" stroke-dasharray="2.8 0.6"/>
<rect x="387.15" y="270.25" width="1.3" height="1.3" fill="#5e5ef2"/>
<rect x="394.85" y="268.15" width="1.3" height="1.3" fill="#5e5ef2"/>
<rect x="402.55" y="266.65" width="1.3" height="1.3" fill="#5e5ef2"/>
<rect x="410.25" y="264.95" width="1.3" height="1.3" fill="#5e5ef2"/>
<rect x="417.95" y="264.05" width="1.3" height="1.3" fill="#5e5ef2"/>
<rect x="425.65" y="269.65" width="1.3" height="1.3" fill="#5e5ef2"/>
<rect x="433.35" y="270.95" width="1.3" height="1.3" fill="#5e5ef2"/>
<rect x="441.05" y="271.75" width="1.3" height="1.3" fill="#5e5ef2"/>
<rect x="448.75" y="272.05" width="1.3" height="1.3" fill="#5e5ef2"/>
<rect x="456.45" y="272.75" width="1.3" height="1.3" fill="#5e5ef2"/>
<rect x="464.15" y="273.15" width="1.3" height="1.3" fill="#5e5ef2"/>
<rect x="471.85" y="273.35" width="1.3" height="1.3" fill="#5e5ef2"/>
<rect x="479.55" y="273.65" width="1.3" height="1.3" fill="#5e5ef2"/>
<rect x="487.25" y="273.63" width="1.3" height="1.3" fill="#5e5ef2"/>
<rect x="494.95" y="273.62" width="1.3" height="1.3" fill="#5e5ef2"/>
<rect x="502.65" y="273.6" width="1.3" height="1.3" fill="#5e5ef2"/>
<rect x="510.35" y="273.58" width="1.3" height="1.3" fill="#5e5ef2"/>
<rect x="518.05" y="273.57" width="1.3" height="1.3" fill="#5e5ef2"/>
<rect x="525.75" y="273.55" width="1.3" height="1.3" fill="#5e5ef2"/>
<rect x="533.45" y="273.25" width="1.3" height="1.3" fill="#5e5ef2"/>
<text x="385.05" y="273" class="lb" textLength="5.5" lengthAdjust="spacingAndGlyphs">95.59</text>
<text x="392.14" y="270.9" class="lb" textLength="6.73" lengthAdjust="spacingAndGlyphs">100.54</text>
<text x="399.84" y="269.4" class="lb" textLength="6.73" lengthAdjust="spacingAndGlyphs">104.08</text>
<text x="407.54" y="267.7" class="lb" textLength="6.73" lengthAdjust="spacingAndGlyphs">108.08</text>
<text x="415.24" y="266.8" class="lb" textLength="6.73" lengthAdjust="spacingAndGlyphs">110.21</text>
<text x="423.55" y="272.4" class="lb" textLength="5.5" lengthAdjust="spacingAndGlyphs">97.01</text>
<text x="431.25" y="273.7" class="lb" textLength="5.5" lengthAdjust="spacingAndGlyphs">93.94</text>
<text x="438.95" y="274.5" class="lb" textLength="5.5" lengthAdjust="spacingAndGlyphs">92.06</text>
<text x="446.65" y="274.8" class="lb" textLength="5.5" lengthAdjust="spacingAndGlyphs">91.35</text>
<text x="454.35" y="275.5" class="lb" textLength="5.5" lengthAdjust="spacingAndGlyphs">89.70</text>
<text x="462.05" y="275.9" class="lb" textLength="5.5" lengthAdjust="spacingAndGlyphs">88.76</text>
<text x="469.75" y="276.1" class="lb" textLength="5.5" lengthAdjust="spacingAndGlyphs">88.29</text>
<text x="477.45" y="276.4" class="lb" textLength="5.5" lengthAdjust="spacingAndGlyphs">87.58</text>
<text x="485.15" y="276.38" class="lb" textLength="5.5" lengthAdjust="spacingAndGlyphs">87.62</text>
<text x="492.85" y="276.37" class="lb" textLength="5.5" lengthAdjust="spacingAndGlyphs">87.66</text>
<text x="500.55" y="276.35" class="lb" textLength="5.5" lengthAdjust="spacingAndGlyphs">87.70</text>
<text x="508.25" y="276.33" class="lb" textLength="5.5" lengthAdjust="spacingAndGlyphs">87.74</text>
<text x="515.95" y="276.32" class="lb" textLength="5.5" lengthAdjust="spacingAndGlyphs">87.78</text>
<text x="523.65" y="276.3" class="lb" textLength="5.5" lengthAdjust="spacingAndGlyphs">87.82</text>
<text x="531.35" y="276" class="lb" textLength="5.5" lengthAdjust="spacingAndGlyphs">88.52</text>
<polyline points="387.8,242.5 395.5,247.6 403.2,252.1 410.9,253 418.6,252.1 426.3,256.6 434,257 441.7,256.93 449.4,256.85 457.1,256.77 464.8,256.7 472.5,256.35 480.2,256 487.9,255.8 495.6,255.37 503.3,254.93 511,254.5 518.7,254.07 526.4,253.63 534.1,253.2" fill="none" stroke="#b2dcb2" stroke-width="0.8" stroke-dasharray="0.9 0.5"/>
<rect x="387.15" y="241.85" width="1.3" height="1.3" fill="#67a867"/>
<rect x="394.85" y="246.95" width="1.3" height="1.3" fill="#67a867"/>
<rect x="402.55" y="251.45" width="1.3" height="1.3" fill="#67a867"/>
<rect x="410.25" y="252.35" width="1.3" height="1.3" fill="#67a867"/>
<rect x="417.95" y="251.45" width="1.3" height="1.3" fill="#67a867"/>
<rect x="425.65" y="255.95" width="1.3" height="1.3" fill="#67a867"/>
<rect x="433.35" y="256.35" width="1.3" height="1.3" fill="#67a867"/>
<rect x="441.05" y="256.28" width="1.3" height="1.3" fill="#67a867"/>
<rect x="448.75" y="256.2" width="1.3" height="1.3" fill="#67a867"/>
<rect x="456.45" y="256.12" width="1.3" height="1.3" fill="#67a867"/>
<rect x="464.15" y="256.05" width="1.3" height="1.3" fill="#67a867"/>
<rect x="471.85" y="255.7" width="1.3" height="1.3" fill="#67a867"/>
<rect x="479.55" y="255.35" width="1.3" height="1.3" fill="#67a867"/>
<rect x="487.25" y="255.15" width="1.3" height="1.3" fill="#67a867"/>
<rect x="494.95" y="254.72" width="1.3" height="1.3" fill="#67a867"/>
<rect x="502.65" y="254.28" width="1.3" height="1.3" fill="#67a867"/>
<rect x="510.35" y="253.85" width="1.3" height="1.3" fill="#67a867"/>
<rect x="518.05" y="253.42" width="1.3" height="1.3" fill="#67a867"/>
<rect x="525.75" y="252.98" width="1.3" height="1.3" fill="#67a867"/>
<rect x="533.45" y="252.55" width="1.3" height="1.3" fill="#67a867"/>
<text x="384.44" y="241.9" class="lb" textLength="6.73" lengthAdjust="spacingAndGlyphs">162.53</text>
<text x="392.14" y="247" class="lb" textLength="6.73" lengthAdjust="spacingAndGlyphs">150.51</text>
<text x="399.84" y="251.5" class="lb" textLength="6.73" lengthAdjust="spacingAndGlyphs">139.90</text>
<text x="407.54" y="252.4" class="lb" textLength="6.73" lengthAdjust="spacingAndGlyphs">137.78</text>
<text x="415.24" y="251.5" class="lb" textLength="6.73" lengthAdjust="spacingAndGlyphs">139.90</text>
<text x="422.94" y="256" class="lb" textLength="6.73" lengthAdjust="spacingAndGlyphs">129.30</text>
<text x="430.64" y="256.4" class="lb" textLength="6.73" lengthAdjust="spacingAndGlyphs">128.35</text>
<text x="438.34" y="256.32" class="lb" textLength="6.73" lengthAdjust="spacingAndGlyphs">128.53</text>
<text x="446.04" y="256.25" class="lb" textLength="6.73" lengthAdjust="spacingAndGlyphs">128.71</text>
<text x="453.74" y="256.17" class="lb" textLength="6.73" lengthAdjust="spacingAndGlyphs">128.88</text>
<text x="461.44" y="256.1" class="lb" textLength="6.73" lengthAdjust="spacingAndGlyphs">129.06</text>
<text x="469.14" y="255.75" class="lb" textLength="6.73" lengthAdjust="spacingAndGlyphs">129.88</text>
<text x="476.84" y="255.4" class="lb" textLength="6.73" lengthAdjust="spacingAndGlyphs">130.71</text>
<text x="484.54" y="255.2" class="lb" textLength="6.73" lengthAdjust="spacingAndGlyphs">131.18</text>
<text x="492.24" y="254.77" class="lb" textLength="6.73" lengthAdjust="spacingAndGlyphs">132.20</text>
<text x="499.94" y="254.33" class="lb" textLength="6.73" lengthAdjust="spacingAndGlyphs">133.22</text>
<text x="507.64" y="253.9" class="lb" textLength="6.73" lengthAdjust="spacingAndGlyphs">134.24</text>
<text x="515.34" y="253.47" class="lb" textLength="6.73" lengthAdjust="spacingAndGlyphs">135.27</text>
<text x="523.04" y="253.03" class="lb" textLength="6.73" lengthAdjust="spacingAndGlyphs">136.29</text>
<text x="530.74" y="252.6" class="lb" textLength="6.73" lengthAdjust="spacingAndGlyphs">137.31</text>
</svg>
</body></html>
